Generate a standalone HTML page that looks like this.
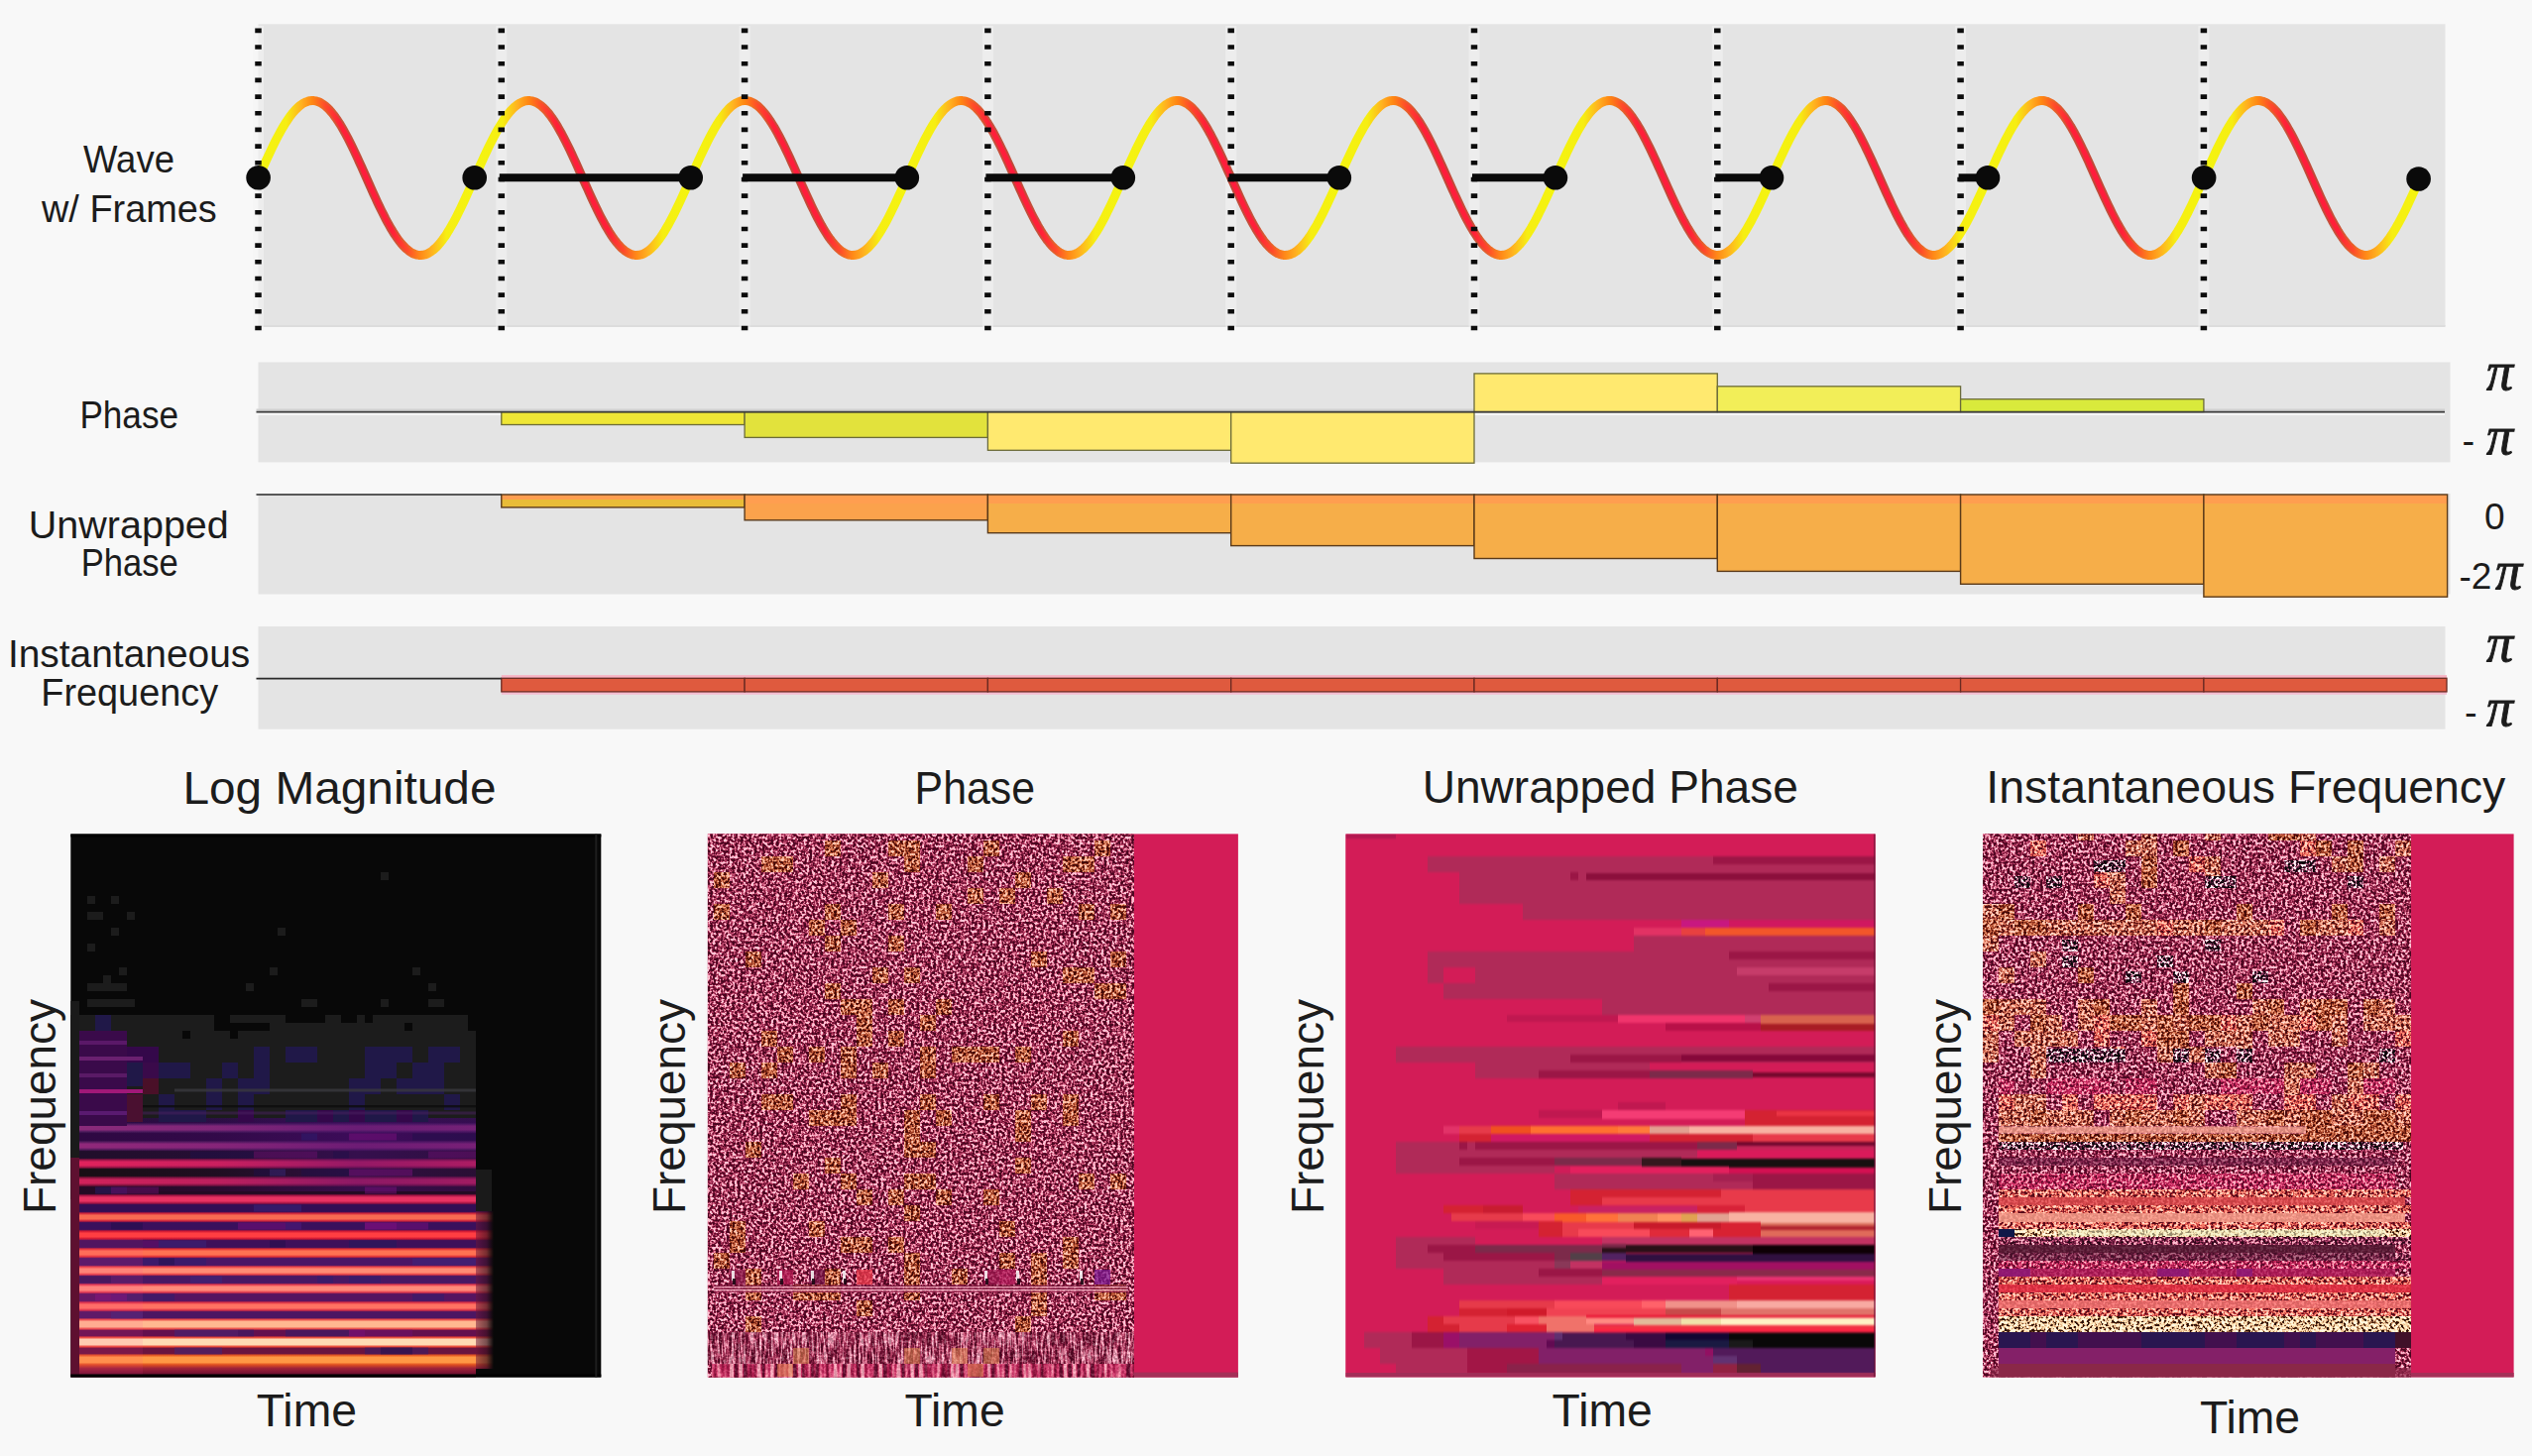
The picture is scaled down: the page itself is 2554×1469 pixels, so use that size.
<!DOCTYPE html><html><head><meta charset="utf-8"><title>Phase figure</title><style>html,body{margin:0;padding:0;background:#f8f8f8;overflow:hidden}svg{display:block}</style></head><body>
<svg width="2554" height="1469" viewBox="0 0 2554 1469">
<defs><linearGradient id="wgO" gradientUnits="userSpaceOnUse" x1="260.60" y1="0" x2="478.65" y2="0" spreadMethod="repeat"><stop offset="0" stop-color="#f4f410"/><stop offset="0.13" stop-color="#f6ee12"/><stop offset="0.2" stop-color="#ffb020"/><stop offset="0.25" stop-color="#ff8612"/><stop offset="0.31" stop-color="#e8602a"/><stop offset="0.38" stop-color="#c8503a"/><stop offset="0.5" stop-color="#c04838"/><stop offset="0.62" stop-color="#c8503a"/><stop offset="0.69" stop-color="#e8602a"/><stop offset="0.75" stop-color="#ff8a18"/><stop offset="0.8" stop-color="#ffb020"/><stop offset="0.87" stop-color="#f6ee12"/><stop offset="1" stop-color="#f4f410"/></linearGradient><linearGradient id="wgI" gradientUnits="userSpaceOnUse" x1="260.60" y1="0" x2="478.65" y2="0" spreadMethod="repeat"><stop offset="0" stop-color="#f4f410"/><stop offset="0.13" stop-color="#f6ee12"/><stop offset="0.2" stop-color="#ffb020"/><stop offset="0.25" stop-color="#ff8612"/><stop offset="0.31" stop-color="#ff4a2a"/><stop offset="0.38" stop-color="#ff2038"/><stop offset="0.5" stop-color="#ff1c3c"/><stop offset="0.62" stop-color="#ff2038"/><stop offset="0.69" stop-color="#ff4a2a"/><stop offset="0.75" stop-color="#ff8a18"/><stop offset="0.8" stop-color="#ffb020"/><stop offset="0.87" stop-color="#f6ee12"/><stop offset="1" stop-color="#f4f410"/></linearGradient><linearGradient id="lmG" gradientUnits="userSpaceOnUse" x1="0" y1="1389.5" x2="0" y2="1128.0"><stop offset="0.0000" stop-color="#4a0c28"/><stop offset="0.0172" stop-color="#7a1434"/><stop offset="0.0344" stop-color="#a02438"/><stop offset="0.0486" stop-color="#e05020"/><stop offset="0.0570" stop-color="#ff9844"/><stop offset="0.0769" stop-color="#ff9844"/><stop offset="0.0853" stop-color="#e05020"/><stop offset="0.0914" stop-color="#6a1440"/><stop offset="0.1113" stop-color="#6a1440"/><stop offset="0.1174" stop-color="#e83c2c"/><stop offset="0.1258" stop-color="#ffdcb4"/><stop offset="0.1457" stop-color="#ffdcb4"/><stop offset="0.1541" stop-color="#e83c2c"/><stop offset="0.1602" stop-color="#64104e"/><stop offset="0.1801" stop-color="#64104e"/><stop offset="0.1862" stop-color="#e84444"/><stop offset="0.1946" stop-color="#ffb890"/><stop offset="0.2145" stop-color="#ffb890"/><stop offset="0.2229" stop-color="#e84444"/><stop offset="0.2291" stop-color="#4c1662"/><stop offset="0.2520" stop-color="#4c1662"/><stop offset="0.2581" stop-color="#d82c44"/><stop offset="0.2665" stop-color="#ff7262"/><stop offset="0.2803" stop-color="#ff7262"/><stop offset="0.2887" stop-color="#d82c44"/><stop offset="0.2948" stop-color="#561460"/><stop offset="0.3208" stop-color="#561460"/><stop offset="0.3270" stop-color="#e0344a"/><stop offset="0.3354" stop-color="#ff8a7a"/><stop offset="0.3491" stop-color="#ff8a7a"/><stop offset="0.3576" stop-color="#e0344a"/><stop offset="0.3637" stop-color="#481864"/><stop offset="0.3897" stop-color="#481864"/><stop offset="0.3958" stop-color="#e83a42"/><stop offset="0.4042" stop-color="#ff8c74"/><stop offset="0.4180" stop-color="#ff8c74"/><stop offset="0.4264" stop-color="#e83a42"/><stop offset="0.4325" stop-color="#4c1666"/><stop offset="0.4585" stop-color="#4c1666"/><stop offset="0.4646" stop-color="#e02c32"/><stop offset="0.4730" stop-color="#ff7252"/><stop offset="0.4868" stop-color="#ff7252"/><stop offset="0.4952" stop-color="#e02c32"/><stop offset="0.5013" stop-color="#3e105a"/><stop offset="0.5273" stop-color="#3e105a"/><stop offset="0.5335" stop-color="#c81432"/><stop offset="0.5419" stop-color="#ff3e42"/><stop offset="0.5556" stop-color="#ff3e42"/><stop offset="0.5641" stop-color="#c81432"/><stop offset="0.5702" stop-color="#3a105c"/><stop offset="0.5962" stop-color="#3a105c"/><stop offset="0.6023" stop-color="#c81c3a"/><stop offset="0.6107" stop-color="#f86a52"/><stop offset="0.6245" stop-color="#f86a52"/><stop offset="0.6329" stop-color="#c81c3a"/><stop offset="0.6390" stop-color="#320e54"/><stop offset="0.6650" stop-color="#320e54"/><stop offset="0.6711" stop-color="#a01242"/><stop offset="0.6795" stop-color="#e83262"/><stop offset="0.6933" stop-color="#e83262"/><stop offset="0.7017" stop-color="#a01242"/><stop offset="0.7078" stop-color="#240a24"/><stop offset="0.7338" stop-color="#240a24"/><stop offset="0.7400" stop-color="#80123a"/><stop offset="0.7484" stop-color="#d0225a"/><stop offset="0.7621" stop-color="#d0225a"/><stop offset="0.7706" stop-color="#80123a"/><stop offset="0.7767" stop-color="#180e14"/><stop offset="0.8027" stop-color="#180e14"/><stop offset="0.8088" stop-color="#901242"/><stop offset="0.8172" stop-color="#e0225c"/><stop offset="0.8310" stop-color="#e0225c"/><stop offset="0.8394" stop-color="#901242"/><stop offset="0.8455" stop-color="#200e2a"/><stop offset="0.8715" stop-color="#200e2a"/><stop offset="0.8776" stop-color="#501a5a"/><stop offset="0.8860" stop-color="#90287a"/><stop offset="0.8998" stop-color="#90287a"/><stop offset="0.9082" stop-color="#501a5a"/><stop offset="0.9143" stop-color="#2e0842"/><stop offset="0.9403" stop-color="#2e0842"/><stop offset="0.9465" stop-color="#481a5a"/><stop offset="0.9549" stop-color="#8a2a7a"/><stop offset="0.9686" stop-color="#8a2a7a"/><stop offset="0.9771" stop-color="#481a5a"/><stop offset="0.9832" stop-color="#280a40"/><stop offset="1.0000" stop-color="#241238"/></linearGradient><linearGradient id="lmFade" x1="0" y1="0" x2="1" y2="0"><stop offset="0" stop-color="#080808" stop-opacity="0.3"/><stop offset="0.6" stop-color="#080808" stop-opacity="0.55"/><stop offset="1" stop-color="#080808" stop-opacity="1"/></linearGradient><linearGradient id="lmPurp" x1="0" y1="0" x2="1" y2="0"><stop offset="0" stop-color="#4a1070" stop-opacity="0"/><stop offset="0.35" stop-color="#4a1070" stop-opacity="0.15"/><stop offset="0.7" stop-color="#4a1070" stop-opacity="0.5"/><stop offset="1" stop-color="#4a1070" stop-opacity="0.35"/></linearGradient><filter id="nPink" x="0" y="0" width="1" height="1" color-interpolation-filters="sRGB"><feTurbulence type="fractalNoise" baseFrequency="0.36" numOctaves="2" seed="3" stitchTiles="noStitch"/><feColorMatrix type="matrix" values="3 0 0 0 -1  3 0 0 0 -1  3 0 0 0 -1  0 0 0 0 1"/><feComponentTransfer><feFuncR type="table" tableValues="0.282 0.353 0.455 0.627 0.816 0.957 1.000"/><feFuncG type="table" tableValues="0.024 0.039 0.078 0.173 0.361 0.596 0.776"/><feFuncB type="table" tableValues="0.118 0.157 0.212 0.322 0.494 0.698 0.839"/></feComponentTransfer><feComposite in2="SourceGraphic" operator="in"/></filter><filter id="nOrange" x="0" y="0" width="1" height="1" color-interpolation-filters="sRGB"><feTurbulence type="fractalNoise" baseFrequency="0.36" numOctaves="2" seed="4" stitchTiles="noStitch"/><feColorMatrix type="matrix" values="3 0 0 0 -1  3 0 0 0 -1  3 0 0 0 -1  0 0 0 0 1"/><feComponentTransfer><feFuncR type="table" tableValues="0.259 0.361 0.533 0.722 0.855 0.949 1.000"/><feFuncG type="table" tableValues="0.039 0.078 0.173 0.322 0.486 0.643 0.776"/><feFuncB type="table" tableValues="0.031 0.047 0.102 0.204 0.337 0.518 0.690"/></feComponentTransfer><feComposite in2="SourceGraphic" operator="in"/></filter><filter id="nPeach" x="0" y="0" width="1" height="1" color-interpolation-filters="sRGB"><feTurbulence type="fractalNoise" baseFrequency="0.36" numOctaves="2" seed="5" stitchTiles="noStitch"/><feColorMatrix type="matrix" values="3 0 0 0 -1  3 0 0 0 -1  3 0 0 0 -1  0 0 0 0 1"/><feComponentTransfer><feFuncR type="table" tableValues="0.290 0.416 0.612 0.816 0.941 0.992 1.000"/><feFuncG type="table" tableValues="0.047 0.102 0.227 0.408 0.580 0.729 0.847"/><feFuncB type="table" tableValues="0.063 0.094 0.188 0.314 0.471 0.635 0.792"/></feComponentTransfer><feComposite in2="SourceGraphic" operator="in"/></filter><filter id="nSalmon" x="0" y="0" width="1" height="1" color-interpolation-filters="sRGB"><feTurbulence type="fractalNoise" baseFrequency="0.36" numOctaves="2" seed="6" stitchTiles="noStitch"/><feColorMatrix type="matrix" values="3 0 0 0 -1  3 0 0 0 -1  3 0 0 0 -1  0 0 0 0 1"/><feComponentTransfer><feFuncR type="table" tableValues="0.322 0.471 0.722 0.910 1.000 1.000 1.000"/><feFuncG type="table" tableValues="0.039 0.086 0.204 0.376 0.565 0.722 0.847"/><feFuncB type="table" tableValues="0.094 0.141 0.227 0.329 0.478 0.627 0.769"/></feComponentTransfer><feComposite in2="SourceGraphic" operator="in"/></filter><filter id="nCream" x="0" y="0" width="1" height="1" color-interpolation-filters="sRGB"><feTurbulence type="fractalNoise" baseFrequency="0.36" numOctaves="2" seed="7" stitchTiles="noStitch"/><feColorMatrix type="matrix" values="3 0 0 0 -1  3 0 0 0 -1  3 0 0 0 -1  0 0 0 0 1"/><feComponentTransfer><feFuncR type="table" tableValues="0.165 0.416 0.816 0.973 1.000 1.000 1.000"/><feFuncG type="table" tableValues="0.063 0.227 0.604 0.831 0.918 0.957 0.980"/><feFuncB type="table" tableValues="0.031 0.125 0.439 0.643 0.753 0.831 0.902"/></feComponentTransfer><feComposite in2="SourceGraphic" operator="in"/></filter><filter id="nDark" x="0" y="0" width="1" height="1" color-interpolation-filters="sRGB"><feTurbulence type="fractalNoise" baseFrequency="0.36" numOctaves="2" seed="8" stitchTiles="noStitch"/><feColorMatrix type="matrix" values="3 0 0 0 -1  3 0 0 0 -1  3 0 0 0 -1  0 0 0 0 1"/><feComponentTransfer><feFuncR type="table" tableValues="0.031 0.078 0.188 0.416 0.784 0.957 1.000"/><feFuncG type="table" tableValues="0.031 0.063 0.063 0.141 0.439 0.816 1.000"/><feFuncB type="table" tableValues="0.031 0.078 0.141 0.267 0.565 0.863 1.000"/></feComponentTransfer><feComposite in2="SourceGraphic" operator="in"/></filter><filter id="nCrim" x="0" y="0" width="1" height="1" color-interpolation-filters="sRGB"><feTurbulence type="fractalNoise" baseFrequency="0.36" numOctaves="2" seed="9" stitchTiles="noStitch"/><feColorMatrix type="matrix" values="3 0 0 0 -1  3 0 0 0 -1  3 0 0 0 -1  0 0 0 0 1"/><feComponentTransfer><feFuncR type="table" tableValues="0.361 0.478 0.627 0.769 0.878 0.957 1.000"/><feFuncG type="table" tableValues="0.039 0.063 0.094 0.141 0.282 0.533 0.706"/><feFuncB type="table" tableValues="0.165 0.204 0.275 0.353 0.478 0.635 0.776"/></feComponentTransfer><feComposite in2="SourceGraphic" operator="in"/></filter><filter id="nMaroon" x="0" y="0" width="1" height="1" color-interpolation-filters="sRGB"><feTurbulence type="fractalNoise" baseFrequency="0.36" numOctaves="2" seed="10" stitchTiles="noStitch"/><feColorMatrix type="matrix" values="3 0 0 0 -1  3 0 0 0 -1  3 0 0 0 -1  0 0 0 0 1"/><feComponentTransfer><feFuncR type="table" tableValues="0.165 0.282 0.392 0.541 0.753 0.910 1.000"/><feFuncG type="table" tableValues="0.031 0.063 0.094 0.157 0.314 0.565 0.753"/><feFuncB type="table" tableValues="0.094 0.157 0.220 0.314 0.471 0.659 0.816"/></feComponentTransfer><feComposite in2="SourceGraphic" operator="in"/></filter><filter id="nPinkV" x="0" y="0" width="1" height="1" color-interpolation-filters="sRGB"><feTurbulence type="fractalNoise" baseFrequency="0.42 0.05" numOctaves="2" seed="21" stitchTiles="noStitch"/><feColorMatrix type="matrix" values="3.4 0 0 0 -1.2  3.4 0 0 0 -1.2  3.4 0 0 0 -1.2  0 0 0 0 1"/><feComponentTransfer><feFuncR type="table" tableValues="0.282 0.353 0.455 0.627 0.816 0.957 1.000"/><feFuncG type="table" tableValues="0.024 0.039 0.078 0.173 0.361 0.596 0.776"/><feFuncB type="table" tableValues="0.118 0.157 0.212 0.322 0.494 0.698 0.839"/></feComponentTransfer><feComposite in2="SourceGraphic" operator="in"/></filter><filter id="nPinkV2" x="0" y="0" width="1" height="1" color-interpolation-filters="sRGB"><feTurbulence type="fractalNoise" baseFrequency="0.22 0.008" numOctaves="1" seed="23" stitchTiles="noStitch"/><feColorMatrix type="matrix" values="4.5 0 0 0 -1.75  4.5 0 0 0 -1.75  4.5 0 0 0 -1.75  0 0 0 0 1"/><feComponentTransfer><feFuncR type="table" tableValues="0.361 0.478 0.627 0.769 0.878 0.957 1.000"/><feFuncG type="table" tableValues="0.039 0.063 0.094 0.141 0.282 0.533 0.706"/><feFuncB type="table" tableValues="0.165 0.204 0.275 0.353 0.478 0.635 0.776"/></feComponentTransfer><feComposite in2="SourceGraphic" operator="in"/></filter><filter id="nPinkH" x="0" y="0" width="1" height="1" color-interpolation-filters="sRGB"><feTurbulence type="fractalNoise" baseFrequency="0.03 0.5" numOctaves="1" seed="25" stitchTiles="noStitch"/><feColorMatrix type="matrix" values="3.4 0 0 0 -1.2  3.4 0 0 0 -1.2  3.4 0 0 0 -1.2  0 0 0 0 1"/><feComponentTransfer><feFuncR type="table" tableValues="0.282 0.353 0.455 0.627 0.816 0.957 1.000"/><feFuncG type="table" tableValues="0.024 0.039 0.078 0.173 0.361 0.596 0.776"/><feFuncB type="table" tableValues="0.118 0.157 0.212 0.322 0.494 0.698 0.839"/></feComponentTransfer><feComposite in2="SourceGraphic" operator="in"/></filter><clipPath id="uwClip"><rect x="1357.5" y="841.6" width="534.0" height="547.7"/></clipPath><filter id="uwBlur" x="-0.02" y="-0.02" width="1.04" height="1.04" color-interpolation-filters="sRGB"><feGaussianBlur stdDeviation="0.7 0.9"/></filter></defs>
<rect width="2554" height="1469" fill="#f8f8f8"/>
<rect x="260.5" y="24.3" width="2206" height="304.7" fill="#e4e4e4"/><rect x="260.5" y="328" width="2206" height="2" fill="#dcdcdc"/><line x1="260.5" y1="26" x2="260.5" y2="334" stroke="#f4f4f4" stroke-width="11" stroke-opacity="0.55"/><line x1="505.8" y1="26" x2="505.8" y2="334" stroke="#f4f4f4" stroke-width="11" stroke-opacity="0.55"/><line x1="751.1" y1="26" x2="751.1" y2="334" stroke="#f4f4f4" stroke-width="11" stroke-opacity="0.55"/><line x1="996.4" y1="26" x2="996.4" y2="334" stroke="#f4f4f4" stroke-width="11" stroke-opacity="0.55"/><line x1="1241.7" y1="26" x2="1241.7" y2="334" stroke="#f4f4f4" stroke-width="11" stroke-opacity="0.55"/><line x1="1487.0" y1="26" x2="1487.0" y2="334" stroke="#f4f4f4" stroke-width="11" stroke-opacity="0.55"/><line x1="1732.3" y1="26" x2="1732.3" y2="334" stroke="#f4f4f4" stroke-width="11" stroke-opacity="0.55"/><line x1="1977.6" y1="26" x2="1977.6" y2="334" stroke="#f4f4f4" stroke-width="11" stroke-opacity="0.55"/><line x1="2222.9" y1="26" x2="2222.9" y2="334" stroke="#f4f4f4" stroke-width="11" stroke-opacity="0.55"/><path d="M260.6 179.5 L262.6 175.0 L264.6 170.5 L266.6 166.1 L268.6 161.7 L270.6 157.3 L272.6 153.1 L274.6 148.9 L276.6 144.8 L278.6 140.8 L280.6 137.0 L282.6 133.3 L284.6 129.8 L286.6 126.4 L288.6 123.2 L290.6 120.2 L292.6 117.3 L294.6 114.7 L296.6 112.3 L298.6 110.2 L300.6 108.2 L302.6 106.5 L304.6 105.1 L306.6 103.8 L308.6 102.9 L310.6 102.2 L312.6 101.7 L314.6 101.5 L316.6 101.6 L318.6 101.9 L320.6 102.5 L322.6 103.3 L324.6 104.4 L326.6 105.7 L328.6 107.3 L330.6 109.1 L332.6 111.2 L334.6 113.5 L336.6 116.0 L338.6 118.7 L340.6 121.6 L342.6 124.7 L344.6 128.0 L346.6 131.5 L348.6 135.1 L350.6 138.8 L352.6 142.8 L354.6 146.8 L356.6 150.9 L358.6 155.1 L360.6 159.4 L362.6 163.8 L364.6 168.2 L366.6 172.7 L368.6 177.2 L370.6 181.7 L372.6 186.2 L374.6 190.6 L376.6 195.1 L378.6 199.4 L380.6 203.8 L382.6 208.0 L384.6 212.1 L386.6 216.1 L388.6 220.1 L390.6 223.8 L392.6 227.4 L394.6 230.9 L396.6 234.2 L398.6 237.3 L400.6 240.2 L402.6 243.0 L404.6 245.5 L406.6 247.8 L408.6 249.8 L410.6 251.6 L412.6 253.2 L414.6 254.6 L416.6 255.7 L418.6 256.5 L420.6 257.1 L422.6 257.4 L424.6 257.5 L426.6 257.3 L428.6 256.9 L430.6 256.2 L432.6 255.2 L434.6 254.0 L436.6 252.5 L438.6 250.8 L440.6 248.9 L442.6 246.7 L444.6 244.3 L446.6 241.7 L448.6 238.9 L450.6 235.9 L452.6 232.7 L454.6 229.3 L456.6 225.8 L458.6 222.1 L460.6 218.3 L462.6 214.3 L464.6 210.2 L466.6 206.0 L468.6 201.8 L470.6 197.4 L472.6 193.0 L474.6 188.6 L476.6 184.1 L478.6 179.6 L480.6 175.1 L482.6 170.6 L484.6 166.2 L486.6 161.8 L488.6 157.4 L490.6 153.2 L492.6 149.0 L494.6 144.9 L496.6 140.9 L498.6 137.1 L500.6 133.4 L502.6 129.8 L504.6 126.5 L506.6 123.3 L508.6 120.2 L510.6 117.4 L512.6 114.8 L514.6 112.4 L516.6 110.2 L518.6 108.3 L520.6 106.6 L522.6 105.1 L524.6 103.9 L526.6 102.9 L528.6 102.2 L530.6 101.7 L532.6 101.5 L534.6 101.6 L536.6 101.9 L538.6 102.5 L540.6 103.3 L542.6 104.4 L544.6 105.7 L546.6 107.3 L548.6 109.1 L550.6 111.1 L552.6 113.4 L554.6 115.9 L556.6 118.6 L558.6 121.5 L560.6 124.6 L562.6 127.9 L564.6 131.4 L566.6 135.0 L568.6 138.8 L570.6 142.7 L572.6 146.7 L574.6 150.8 L576.6 155.0 L578.6 159.3 L580.6 163.7 L582.6 168.1 L584.6 172.6 L586.6 177.1 L588.6 181.6 L590.6 186.1 L592.6 190.5 L594.6 195.0 L596.6 199.3 L598.6 203.7 L600.6 207.9 L602.6 212.0 L604.6 216.1 L606.6 220.0 L608.6 223.7 L610.6 227.4 L612.6 230.8 L614.6 234.1 L616.6 237.2 L618.6 240.2 L620.6 242.9 L622.6 245.4 L624.6 247.7 L626.6 249.8 L628.6 251.6 L630.6 253.2 L632.6 254.5 L634.6 255.6 L636.6 256.5 L638.6 257.1 L640.6 257.4 L642.6 257.5 L644.6 257.3 L646.6 256.9 L648.6 256.2 L650.6 255.2 L652.6 254.0 L654.6 252.6 L656.6 250.9 L658.6 248.9 L660.6 246.8 L662.6 244.4 L664.6 241.8 L666.6 239.0 L668.6 236.0 L670.6 232.8 L672.6 229.4 L674.6 225.9 L676.6 222.2 L678.6 218.4 L680.6 214.4 L682.6 210.3 L684.6 206.1 L686.6 201.9 L688.6 197.5 L690.6 193.1 L692.6 188.7 L694.6 184.2 L696.6 179.7 L698.6 175.2 L700.6 170.8 L702.6 166.3 L704.6 161.9 L706.6 157.5 L708.6 153.3 L710.6 149.1 L712.6 145.0 L714.6 141.0 L716.6 137.2 L718.6 133.5 L720.6 129.9 L722.6 126.5 L724.6 123.3 L726.6 120.3 L728.6 117.5 L730.6 114.9 L732.6 112.5 L734.6 110.3 L736.6 108.3 L738.6 106.6 L740.6 105.1 L742.6 103.9 L744.6 102.9 L746.6 102.2 L748.6 101.7 L750.6 101.5 L752.6 101.6 L754.6 101.9 L756.6 102.4 L758.6 103.3 L760.6 104.3 L762.6 105.7 L764.6 107.2 L766.6 109.0 L768.6 111.1 L770.6 113.4 L772.6 115.8 L774.6 118.6 L776.6 121.5 L778.6 124.6 L780.6 127.8 L782.6 131.3 L784.6 134.9 L786.6 138.7 L788.6 142.6 L790.6 146.6 L792.6 150.7 L794.6 154.9 L796.6 159.2 L798.6 163.6 L800.6 168.0 L802.6 172.5 L804.6 177.0 L806.6 181.5 L808.6 186.0 L810.6 190.4 L812.6 194.9 L814.6 199.2 L816.6 203.5 L818.6 207.8 L820.6 211.9 L822.6 216.0 L824.6 219.9 L826.6 223.6 L828.6 227.3 L830.6 230.7 L832.6 234.0 L834.6 237.2 L836.6 240.1 L838.6 242.8 L840.6 245.3 L842.6 247.6 L844.6 249.7 L846.6 251.6 L848.6 253.2 L850.6 254.5 L852.6 255.6 L854.6 256.5 L856.6 257.1 L858.6 257.4 L860.6 257.5 L862.6 257.3 L864.6 256.9 L866.6 256.2 L868.6 255.2 L870.6 254.0 L872.6 252.6 L874.6 250.9 L876.6 249.0 L878.6 246.8 L880.6 244.5 L882.6 241.9 L884.6 239.1 L886.6 236.1 L888.6 232.9 L890.6 229.5 L892.6 226.0 L894.6 222.3 L896.6 218.5 L898.6 214.5 L900.6 210.4 L902.6 206.3 L904.6 202.0 L906.6 197.6 L908.6 193.3 L910.6 188.8 L912.6 184.3 L914.6 179.8 L916.6 175.3 L918.6 170.9 L920.6 166.4 L922.6 162.0 L924.6 157.7 L926.6 153.4 L928.6 149.2 L930.6 145.1 L932.6 141.1 L934.6 137.3 L936.6 133.6 L938.6 130.0 L940.6 126.6 L942.6 123.4 L944.6 120.4 L946.6 117.5 L948.6 114.9 L950.6 112.5 L952.6 110.3 L954.6 108.4 L956.6 106.6 L958.6 105.2 L960.6 103.9 L962.6 102.9 L964.6 102.2 L966.6 101.7 L968.6 101.5 L970.6 101.6 L972.6 101.9 L974.6 102.4 L976.6 103.2 L978.6 104.3 L980.6 105.6 L982.6 107.2 L984.6 109.0 L986.6 111.0 L988.6 113.3 L990.6 115.8 L992.6 118.5 L994.6 121.4 L996.6 124.5 L998.6 127.8 L1000.6 131.2 L1002.6 134.8 L1004.6 138.6 L1006.6 142.5 L1008.6 146.5 L1010.6 150.6 L1012.6 154.8 L1014.6 159.1 L1016.6 163.5 L1018.6 167.9 L1020.6 172.4 L1022.6 176.9 L1024.6 181.4 L1026.6 185.8 L1028.6 190.3 L1030.6 194.7 L1032.6 199.1 L1034.6 203.4 L1036.6 207.7 L1038.6 211.8 L1040.6 215.9 L1042.6 219.8 L1044.6 223.5 L1046.6 227.2 L1048.6 230.7 L1050.6 234.0 L1052.6 237.1 L1054.6 240.0 L1056.6 242.8 L1058.6 245.3 L1060.6 247.6 L1062.6 249.7 L1064.6 251.5 L1066.6 253.1 L1068.6 254.5 L1070.6 255.6 L1072.6 256.5 L1074.6 257.1 L1076.6 257.4 L1078.6 257.5 L1080.6 257.3 L1082.6 256.9 L1084.6 256.2 L1086.6 255.3 L1088.6 254.1 L1090.6 252.6 L1092.6 251.0 L1094.6 249.0 L1096.6 246.9 L1098.6 244.5 L1100.6 241.9 L1102.6 239.1 L1104.6 236.1 L1106.6 233.0 L1108.6 229.6 L1110.6 226.1 L1112.6 222.4 L1114.6 218.6 L1116.6 214.6 L1118.6 210.5 L1120.6 206.4 L1122.6 202.1 L1124.6 197.8 L1126.6 193.4 L1128.6 188.9 L1130.6 184.4 L1132.6 179.9 L1134.6 175.5 L1136.6 171.0 L1138.6 166.5 L1140.6 162.1 L1142.6 157.8 L1144.6 153.5 L1146.6 149.3 L1148.6 145.2 L1150.6 141.2 L1152.6 137.4 L1154.6 133.7 L1156.6 130.1 L1158.6 126.7 L1160.6 123.5 L1162.6 120.5 L1164.6 117.6 L1166.6 115.0 L1168.6 112.6 L1170.6 110.4 L1172.6 108.4 L1174.6 106.7 L1176.6 105.2 L1178.6 103.9 L1180.6 103.0 L1182.6 102.2 L1184.6 101.7 L1186.6 101.5 L1188.6 101.6 L1190.6 101.8 L1192.6 102.4 L1194.6 103.2 L1196.6 104.3 L1198.6 105.6 L1200.6 107.1 L1202.6 108.9 L1204.6 111.0 L1206.6 113.2 L1208.6 115.7 L1210.6 118.4 L1212.6 121.3 L1214.6 124.4 L1216.6 127.7 L1218.6 131.1 L1220.6 134.7 L1222.6 138.5 L1224.6 142.4 L1226.6 146.4 L1228.6 150.5 L1230.6 154.7 L1232.6 159.0 L1234.6 163.4 L1236.6 167.8 L1238.6 172.3 L1240.6 176.7 L1242.6 181.2 L1244.6 185.7 L1246.6 190.2 L1248.6 194.6 L1250.6 199.0 L1252.6 203.3 L1254.6 207.6 L1256.6 211.7 L1258.6 215.8 L1260.6 219.7 L1262.6 223.5 L1264.6 227.1 L1266.6 230.6 L1268.6 233.9 L1270.6 237.0 L1272.6 240.0 L1274.6 242.7 L1276.6 245.2 L1278.6 247.5 L1280.6 249.6 L1282.6 251.5 L1284.6 253.1 L1286.6 254.4 L1288.6 255.6 L1290.6 256.4 L1292.6 257.0 L1294.6 257.4 L1296.6 257.5 L1298.6 257.3 L1300.6 256.9 L1302.6 256.2 L1304.6 255.3 L1306.6 254.1 L1308.6 252.7 L1310.6 251.0 L1312.6 249.1 L1314.6 246.9 L1316.6 244.6 L1318.6 242.0 L1320.6 239.2 L1322.6 236.2 L1324.6 233.0 L1326.6 229.7 L1328.6 226.2 L1330.6 222.5 L1332.6 218.7 L1334.6 214.7 L1336.6 210.6 L1338.6 206.5 L1340.6 202.2 L1342.6 197.9 L1344.6 193.5 L1346.6 189.0 L1348.6 184.6 L1350.6 180.1 L1352.6 175.6 L1354.6 171.1 L1356.6 166.6 L1358.6 162.2 L1360.6 157.9 L1362.6 153.6 L1364.6 149.4 L1366.6 145.3 L1368.6 141.3 L1370.6 137.5 L1372.6 133.8 L1374.6 130.2 L1376.6 126.8 L1378.6 123.6 L1380.6 120.5 L1382.6 117.7 L1384.6 115.0 L1386.6 112.6 L1388.6 110.4 L1390.6 108.5 L1392.6 106.7 L1394.6 105.2 L1396.6 104.0 L1398.6 103.0 L1400.6 102.2 L1402.6 101.7 L1404.6 101.5 L1406.6 101.5 L1408.6 101.8 L1410.6 102.4 L1412.6 103.2 L1414.6 104.2 L1416.6 105.6 L1418.6 107.1 L1420.6 108.9 L1422.6 110.9 L1424.6 113.2 L1426.6 115.7 L1428.6 118.3 L1430.6 121.2 L1432.6 124.3 L1434.6 127.6 L1436.6 131.0 L1438.6 134.6 L1440.6 138.4 L1442.6 142.3 L1444.6 146.3 L1446.6 150.4 L1448.6 154.6 L1450.6 158.9 L1452.6 163.3 L1454.6 167.7 L1456.6 172.2 L1458.6 176.6 L1460.6 181.1 L1462.6 185.6 L1464.6 190.1 L1466.6 194.5 L1468.6 198.9 L1470.6 203.2 L1472.6 207.5 L1474.6 211.6 L1476.6 215.7 L1478.6 219.6 L1480.6 223.4 L1482.6 227.0 L1484.6 230.5 L1486.6 233.8 L1488.6 236.9 L1490.6 239.9 L1492.6 242.6 L1494.6 245.2 L1496.6 247.5 L1498.6 249.6 L1500.6 251.4 L1502.6 253.0 L1504.6 254.4 L1506.6 255.5 L1508.6 256.4 L1510.6 257.0 L1512.6 257.4 L1514.6 257.5 L1516.6 257.3 L1518.6 256.9 L1520.6 256.3 L1522.6 255.3 L1524.6 254.1 L1526.6 252.7 L1528.6 251.0 L1530.6 249.1 L1532.6 247.0 L1534.6 244.6 L1536.6 242.1 L1538.6 239.3 L1540.6 236.3 L1542.6 233.1 L1544.6 229.8 L1546.6 226.2 L1548.6 222.6 L1550.6 218.8 L1552.6 214.8 L1554.6 210.7 L1556.6 206.6 L1558.6 202.3 L1560.6 198.0 L1562.6 193.6 L1564.6 189.1 L1566.6 184.7 L1568.6 180.2 L1570.6 175.7 L1572.6 171.2 L1574.6 166.7 L1576.6 162.3 L1578.6 158.0 L1580.6 153.7 L1582.6 149.5 L1584.6 145.4 L1586.6 141.4 L1588.6 137.6 L1590.6 133.8 L1592.6 130.3 L1594.6 126.9 L1596.6 123.6 L1598.6 120.6 L1600.6 117.8 L1602.6 115.1 L1604.6 112.7 L1606.6 110.5 L1608.6 108.5 L1610.6 106.8 L1612.6 105.3 L1614.6 104.0 L1616.6 103.0 L1618.6 102.2 L1620.6 101.8 L1622.6 101.5 L1624.6 101.5 L1626.6 101.8 L1628.6 102.4 L1630.6 103.2 L1632.6 104.2 L1634.6 105.5 L1636.6 107.1 L1638.6 108.9 L1640.6 110.9 L1642.6 113.1 L1644.6 115.6 L1646.6 118.3 L1648.6 121.2 L1650.6 124.2 L1652.6 127.5 L1654.6 130.9 L1656.6 134.5 L1658.6 138.3 L1660.6 142.2 L1662.6 146.2 L1664.6 150.3 L1666.6 154.5 L1668.6 158.8 L1670.6 163.2 L1672.6 167.6 L1674.6 172.0 L1676.6 176.5 L1678.6 181.0 L1680.6 185.5 L1682.6 190.0 L1684.6 194.4 L1686.6 198.8 L1688.6 203.1 L1690.6 207.4 L1692.6 211.5 L1694.6 215.6 L1696.6 219.5 L1698.6 223.3 L1700.6 226.9 L1702.6 230.4 L1704.6 233.7 L1706.6 236.9 L1708.6 239.8 L1710.6 242.6 L1712.6 245.1 L1714.6 247.4 L1716.6 249.5 L1718.6 251.4 L1720.6 253.0 L1722.6 254.4 L1724.6 255.5 L1726.6 256.4 L1728.6 257.0 L1730.6 257.4 L1732.6 257.5 L1734.6 257.3 L1736.6 256.9 L1738.6 256.3 L1740.6 255.4 L1742.6 254.2 L1744.6 252.8 L1746.6 251.1 L1748.6 249.2 L1750.6 247.1 L1752.6 244.7 L1754.6 242.1 L1756.6 239.3 L1758.6 236.4 L1760.6 233.2 L1762.6 229.8 L1764.6 226.3 L1766.6 222.7 L1768.6 218.8 L1770.6 214.9 L1772.6 210.8 L1774.6 206.7 L1776.6 202.4 L1778.6 198.1 L1780.6 193.7 L1782.6 189.3 L1784.6 184.8 L1786.6 180.3 L1788.6 175.8 L1790.6 171.3 L1792.6 166.9 L1794.6 162.4 L1796.6 158.1 L1798.6 153.8 L1800.6 149.6 L1802.6 145.5 L1804.6 141.5 L1806.6 137.7 L1808.6 133.9 L1810.6 130.4 L1812.6 127.0 L1814.6 123.7 L1816.6 120.7 L1818.6 117.8 L1820.6 115.2 L1822.6 112.7 L1824.6 110.5 L1826.6 108.5 L1828.6 106.8 L1830.6 105.3 L1832.6 104.0 L1834.6 103.0 L1836.6 102.3 L1838.6 101.8 L1840.6 101.5 L1842.6 101.5 L1844.6 101.8 L1846.6 102.4 L1848.6 103.1 L1850.6 104.2 L1852.6 105.5 L1854.6 107.0 L1856.6 108.8 L1858.6 110.8 L1860.6 113.1 L1862.6 115.5 L1864.6 118.2 L1866.6 121.1 L1868.6 124.2 L1870.6 127.4 L1872.6 130.8 L1874.6 134.4 L1876.6 138.2 L1878.6 142.1 L1880.6 146.1 L1882.6 150.2 L1884.6 154.4 L1886.6 158.7 L1888.6 163.0 L1890.6 167.5 L1892.6 171.9 L1894.6 176.4 L1896.6 180.9 L1898.6 185.4 L1900.6 189.9 L1902.6 194.3 L1904.6 198.7 L1906.6 203.0 L1908.6 207.3 L1910.6 211.4 L1912.6 215.5 L1914.6 219.4 L1916.6 223.2 L1918.6 226.8 L1920.6 230.3 L1922.6 233.6 L1924.6 236.8 L1926.6 239.7 L1928.6 242.5 L1930.6 245.0 L1932.6 247.4 L1934.6 249.5 L1936.6 251.3 L1938.6 253.0 L1940.6 254.4 L1942.6 255.5 L1944.6 256.4 L1946.6 257.0 L1948.6 257.4 L1950.6 257.5 L1952.6 257.4 L1954.6 257.0 L1956.6 256.3 L1958.6 255.4 L1960.6 254.2 L1962.6 252.8 L1964.6 251.1 L1966.6 249.2 L1968.6 247.1 L1970.6 244.8 L1972.6 242.2 L1974.6 239.4 L1976.6 236.4 L1978.6 233.3 L1980.6 229.9 L1982.6 226.4 L1984.6 222.8 L1986.6 218.9 L1988.6 215.0 L1990.6 210.9 L1992.6 206.8 L1994.6 202.5 L1996.6 198.2 L1998.6 193.8 L2000.6 189.4 L2002.6 184.9 L2004.6 180.4 L2006.6 175.9 L2008.6 171.4 L2010.6 167.0 L2012.6 162.6 L2014.6 158.2 L2016.6 153.9 L2018.6 149.7 L2020.6 145.6 L2022.6 141.6 L2024.6 137.8 L2026.6 134.0 L2028.6 130.5 L2030.6 127.0 L2032.6 123.8 L2034.6 120.7 L2036.6 117.9 L2038.6 115.2 L2040.6 112.8 L2042.6 110.6 L2044.6 108.6 L2046.6 106.8 L2048.6 105.3 L2050.6 104.1 L2052.6 103.0 L2054.6 102.3 L2056.6 101.8 L2058.6 101.5 L2060.6 101.5 L2062.6 101.8 L2064.6 102.3 L2066.6 103.1 L2068.6 104.2 L2070.6 105.4 L2072.6 107.0 L2074.6 108.8 L2076.6 110.8 L2078.6 113.0 L2080.6 115.5 L2082.6 118.1 L2084.6 121.0 L2086.6 124.1 L2088.6 127.3 L2090.6 130.8 L2092.6 134.3 L2094.6 138.1 L2096.6 142.0 L2098.6 146.0 L2100.6 150.1 L2102.6 154.3 L2104.6 158.6 L2106.6 162.9 L2108.6 167.4 L2110.6 171.8 L2112.6 176.3 L2114.6 180.8 L2116.6 185.3 L2118.6 189.8 L2120.6 194.2 L2122.6 198.6 L2124.6 202.9 L2126.6 207.1 L2128.6 211.3 L2130.6 215.4 L2132.6 219.3 L2134.6 223.1 L2136.6 226.7 L2138.6 230.2 L2140.6 233.6 L2142.6 236.7 L2144.6 239.7 L2146.6 242.4 L2148.6 245.0 L2150.6 247.3 L2152.6 249.4 L2154.6 251.3 L2156.6 252.9 L2158.6 254.3 L2160.6 255.5 L2162.6 256.4 L2164.6 257.0 L2166.6 257.4 L2168.6 257.5 L2170.6 257.4 L2172.6 257.0 L2174.6 256.3 L2176.6 255.4 L2178.6 254.2 L2180.6 252.8 L2182.6 251.2 L2184.6 249.3 L2186.6 247.2 L2188.6 244.8 L2190.6 242.3 L2192.6 239.5 L2194.6 236.5 L2196.6 233.4 L2198.6 230.0 L2200.6 226.5 L2202.6 222.8 L2204.6 219.0 L2206.6 215.1 L2208.6 211.0 L2210.6 206.9 L2212.6 202.6 L2214.6 198.3 L2216.6 193.9 L2218.6 189.5 L2220.6 185.0 L2222.6 180.5 L2224.6 176.0 L2226.6 171.5 L2228.6 167.1 L2230.6 162.7 L2232.6 158.3 L2234.6 154.0 L2236.6 149.8 L2238.6 145.7 L2240.6 141.7 L2242.6 137.8 L2244.6 134.1 L2246.6 130.5 L2248.6 127.1 L2250.6 123.9 L2252.6 120.8 L2254.6 118.0 L2256.6 115.3 L2258.6 112.9 L2260.6 110.6 L2262.6 108.6 L2264.6 106.9 L2266.6 105.4 L2268.6 104.1 L2270.6 103.1 L2272.6 102.3 L2274.6 101.8 L2276.6 101.5 L2278.6 101.5 L2280.6 101.8 L2282.6 102.3 L2284.6 103.1 L2286.6 104.1 L2288.6 105.4 L2290.6 106.9 L2292.6 108.7 L2294.6 110.7 L2296.6 112.9 L2298.6 115.4 L2300.6 118.1 L2302.6 120.9 L2304.6 124.0 L2306.6 127.2 L2308.6 130.7 L2310.6 134.3 L2312.6 138.0 L2314.6 141.9 L2316.6 145.9 L2318.6 150.0 L2320.6 154.2 L2322.6 158.5 L2324.6 162.8 L2326.6 167.2 L2328.6 171.7 L2330.6 176.2 L2332.6 180.7 L2334.6 185.2 L2336.6 189.6 L2338.6 194.1 L2340.6 198.5 L2342.6 202.8 L2344.6 207.0 L2346.6 211.2 L2348.6 215.3 L2350.6 219.2 L2352.6 223.0 L2354.6 226.6 L2356.6 230.1 L2358.6 233.5 L2360.6 236.6 L2362.6 239.6 L2364.6 242.4 L2366.6 244.9 L2368.6 247.3 L2370.6 249.4 L2372.6 251.2 L2374.6 252.9 L2376.6 254.3 L2378.6 255.4 L2380.6 256.3 L2382.6 257.0 L2384.6 257.4 L2386.6 257.5 L2388.6 257.4 L2390.6 257.0 L2392.6 256.3 L2394.6 255.4 L2396.6 254.3 L2398.6 252.9 L2400.6 251.2 L2402.6 249.3 L2404.6 247.2 L2406.6 244.9 L2408.6 242.3 L2410.6 239.6 L2412.6 236.6 L2414.6 233.4 L2416.6 230.1 L2418.6 226.6 L2420.6 222.9 L2422.6 219.1 L2424.6 215.2 L2426.6 211.2 L2428.6 207.0 L2430.6 202.7 L2432.6 198.4 L2434.6 194.0 L2436.6 189.6 L2438.6 185.1 L2439.6 182.9" fill="none" stroke="url(#wgO)" stroke-width="9" stroke-linecap="butt" stroke-linejoin="round"/><path d="M260.6 179.5 L262.6 175.0 L264.6 170.5 L266.6 166.1 L268.6 161.7 L270.6 157.3 L272.6 153.1 L274.6 148.9 L276.6 144.8 L278.6 140.8 L280.6 137.0 L282.6 133.3 L284.6 129.8 L286.6 126.4 L288.6 123.2 L290.6 120.2 L292.6 117.3 L294.6 114.7 L296.6 112.3 L298.6 110.2 L300.6 108.2 L302.6 106.5 L304.6 105.1 L306.6 103.8 L308.6 102.9 L310.6 102.2 L312.6 101.7 L314.6 101.5 L316.6 101.6 L318.6 101.9 L320.6 102.5 L322.6 103.3 L324.6 104.4 L326.6 105.7 L328.6 107.3 L330.6 109.1 L332.6 111.2 L334.6 113.5 L336.6 116.0 L338.6 118.7 L340.6 121.6 L342.6 124.7 L344.6 128.0 L346.6 131.5 L348.6 135.1 L350.6 138.8 L352.6 142.8 L354.6 146.8 L356.6 150.9 L358.6 155.1 L360.6 159.4 L362.6 163.8 L364.6 168.2 L366.6 172.7 L368.6 177.2 L370.6 181.7 L372.6 186.2 L374.6 190.6 L376.6 195.1 L378.6 199.4 L380.6 203.8 L382.6 208.0 L384.6 212.1 L386.6 216.1 L388.6 220.1 L390.6 223.8 L392.6 227.4 L394.6 230.9 L396.6 234.2 L398.6 237.3 L400.6 240.2 L402.6 243.0 L404.6 245.5 L406.6 247.8 L408.6 249.8 L410.6 251.6 L412.6 253.2 L414.6 254.6 L416.6 255.7 L418.6 256.5 L420.6 257.1 L422.6 257.4 L424.6 257.5 L426.6 257.3 L428.6 256.9 L430.6 256.2 L432.6 255.2 L434.6 254.0 L436.6 252.5 L438.6 250.8 L440.6 248.9 L442.6 246.7 L444.6 244.3 L446.6 241.7 L448.6 238.9 L450.6 235.9 L452.6 232.7 L454.6 229.3 L456.6 225.8 L458.6 222.1 L460.6 218.3 L462.6 214.3 L464.6 210.2 L466.6 206.0 L468.6 201.8 L470.6 197.4 L472.6 193.0 L474.6 188.6 L476.6 184.1 L478.6 179.6 L480.6 175.1 L482.6 170.6 L484.6 166.2 L486.6 161.8 L488.6 157.4 L490.6 153.2 L492.6 149.0 L494.6 144.9 L496.6 140.9 L498.6 137.1 L500.6 133.4 L502.6 129.8 L504.6 126.5 L506.6 123.3 L508.6 120.2 L510.6 117.4 L512.6 114.8 L514.6 112.4 L516.6 110.2 L518.6 108.3 L520.6 106.6 L522.6 105.1 L524.6 103.9 L526.6 102.9 L528.6 102.2 L530.6 101.7 L532.6 101.5 L534.6 101.6 L536.6 101.9 L538.6 102.5 L540.6 103.3 L542.6 104.4 L544.6 105.7 L546.6 107.3 L548.6 109.1 L550.6 111.1 L552.6 113.4 L554.6 115.9 L556.6 118.6 L558.6 121.5 L560.6 124.6 L562.6 127.9 L564.6 131.4 L566.6 135.0 L568.6 138.8 L570.6 142.7 L572.6 146.7 L574.6 150.8 L576.6 155.0 L578.6 159.3 L580.6 163.7 L582.6 168.1 L584.6 172.6 L586.6 177.1 L588.6 181.6 L590.6 186.1 L592.6 190.5 L594.6 195.0 L596.6 199.3 L598.6 203.7 L600.6 207.9 L602.6 212.0 L604.6 216.1 L606.6 220.0 L608.6 223.7 L610.6 227.4 L612.6 230.8 L614.6 234.1 L616.6 237.2 L618.6 240.2 L620.6 242.9 L622.6 245.4 L624.6 247.7 L626.6 249.8 L628.6 251.6 L630.6 253.2 L632.6 254.5 L634.6 255.6 L636.6 256.5 L638.6 257.1 L640.6 257.4 L642.6 257.5 L644.6 257.3 L646.6 256.9 L648.6 256.2 L650.6 255.2 L652.6 254.0 L654.6 252.6 L656.6 250.9 L658.6 248.9 L660.6 246.8 L662.6 244.4 L664.6 241.8 L666.6 239.0 L668.6 236.0 L670.6 232.8 L672.6 229.4 L674.6 225.9 L676.6 222.2 L678.6 218.4 L680.6 214.4 L682.6 210.3 L684.6 206.1 L686.6 201.9 L688.6 197.5 L690.6 193.1 L692.6 188.7 L694.6 184.2 L696.6 179.7 L698.6 175.2 L700.6 170.8 L702.6 166.3 L704.6 161.9 L706.6 157.5 L708.6 153.3 L710.6 149.1 L712.6 145.0 L714.6 141.0 L716.6 137.2 L718.6 133.5 L720.6 129.9 L722.6 126.5 L724.6 123.3 L726.6 120.3 L728.6 117.5 L730.6 114.9 L732.6 112.5 L734.6 110.3 L736.6 108.3 L738.6 106.6 L740.6 105.1 L742.6 103.9 L744.6 102.9 L746.6 102.2 L748.6 101.7 L750.6 101.5 L752.6 101.6 L754.6 101.9 L756.6 102.4 L758.6 103.3 L760.6 104.3 L762.6 105.7 L764.6 107.2 L766.6 109.0 L768.6 111.1 L770.6 113.4 L772.6 115.8 L774.6 118.6 L776.6 121.5 L778.6 124.6 L780.6 127.8 L782.6 131.3 L784.6 134.9 L786.6 138.7 L788.6 142.6 L790.6 146.6 L792.6 150.7 L794.6 154.9 L796.6 159.2 L798.6 163.6 L800.6 168.0 L802.6 172.5 L804.6 177.0 L806.6 181.5 L808.6 186.0 L810.6 190.4 L812.6 194.9 L814.6 199.2 L816.6 203.5 L818.6 207.8 L820.6 211.9 L822.6 216.0 L824.6 219.9 L826.6 223.6 L828.6 227.3 L830.6 230.7 L832.6 234.0 L834.6 237.2 L836.6 240.1 L838.6 242.8 L840.6 245.3 L842.6 247.6 L844.6 249.7 L846.6 251.6 L848.6 253.2 L850.6 254.5 L852.6 255.6 L854.6 256.5 L856.6 257.1 L858.6 257.4 L860.6 257.5 L862.6 257.3 L864.6 256.9 L866.6 256.2 L868.6 255.2 L870.6 254.0 L872.6 252.6 L874.6 250.9 L876.6 249.0 L878.6 246.8 L880.6 244.5 L882.6 241.9 L884.6 239.1 L886.6 236.1 L888.6 232.9 L890.6 229.5 L892.6 226.0 L894.6 222.3 L896.6 218.5 L898.6 214.5 L900.6 210.4 L902.6 206.3 L904.6 202.0 L906.6 197.6 L908.6 193.3 L910.6 188.8 L912.6 184.3 L914.6 179.8 L916.6 175.3 L918.6 170.9 L920.6 166.4 L922.6 162.0 L924.6 157.7 L926.6 153.4 L928.6 149.2 L930.6 145.1 L932.6 141.1 L934.6 137.3 L936.6 133.6 L938.6 130.0 L940.6 126.6 L942.6 123.4 L944.6 120.4 L946.6 117.5 L948.6 114.9 L950.6 112.5 L952.6 110.3 L954.6 108.4 L956.6 106.6 L958.6 105.2 L960.6 103.9 L962.6 102.9 L964.6 102.2 L966.6 101.7 L968.6 101.5 L970.6 101.6 L972.6 101.9 L974.6 102.4 L976.6 103.2 L978.6 104.3 L980.6 105.6 L982.6 107.2 L984.6 109.0 L986.6 111.0 L988.6 113.3 L990.6 115.8 L992.6 118.5 L994.6 121.4 L996.6 124.5 L998.6 127.8 L1000.6 131.2 L1002.6 134.8 L1004.6 138.6 L1006.6 142.5 L1008.6 146.5 L1010.6 150.6 L1012.6 154.8 L1014.6 159.1 L1016.6 163.5 L1018.6 167.9 L1020.6 172.4 L1022.6 176.9 L1024.6 181.4 L1026.6 185.8 L1028.6 190.3 L1030.6 194.7 L1032.6 199.1 L1034.6 203.4 L1036.6 207.7 L1038.6 211.8 L1040.6 215.9 L1042.6 219.8 L1044.6 223.5 L1046.6 227.2 L1048.6 230.7 L1050.6 234.0 L1052.6 237.1 L1054.6 240.0 L1056.6 242.8 L1058.6 245.3 L1060.6 247.6 L1062.6 249.7 L1064.6 251.5 L1066.6 253.1 L1068.6 254.5 L1070.6 255.6 L1072.6 256.5 L1074.6 257.1 L1076.6 257.4 L1078.6 257.5 L1080.6 257.3 L1082.6 256.9 L1084.6 256.2 L1086.6 255.3 L1088.6 254.1 L1090.6 252.6 L1092.6 251.0 L1094.6 249.0 L1096.6 246.9 L1098.6 244.5 L1100.6 241.9 L1102.6 239.1 L1104.6 236.1 L1106.6 233.0 L1108.6 229.6 L1110.6 226.1 L1112.6 222.4 L1114.6 218.6 L1116.6 214.6 L1118.6 210.5 L1120.6 206.4 L1122.6 202.1 L1124.6 197.8 L1126.6 193.4 L1128.6 188.9 L1130.6 184.4 L1132.6 179.9 L1134.6 175.5 L1136.6 171.0 L1138.6 166.5 L1140.6 162.1 L1142.6 157.8 L1144.6 153.5 L1146.6 149.3 L1148.6 145.2 L1150.6 141.2 L1152.6 137.4 L1154.6 133.7 L1156.6 130.1 L1158.6 126.7 L1160.6 123.5 L1162.6 120.5 L1164.6 117.6 L1166.6 115.0 L1168.6 112.6 L1170.6 110.4 L1172.6 108.4 L1174.6 106.7 L1176.6 105.2 L1178.6 103.9 L1180.6 103.0 L1182.6 102.2 L1184.6 101.7 L1186.6 101.5 L1188.6 101.6 L1190.6 101.8 L1192.6 102.4 L1194.6 103.2 L1196.6 104.3 L1198.6 105.6 L1200.6 107.1 L1202.6 108.9 L1204.6 111.0 L1206.6 113.2 L1208.6 115.7 L1210.6 118.4 L1212.6 121.3 L1214.6 124.4 L1216.6 127.7 L1218.6 131.1 L1220.6 134.7 L1222.6 138.5 L1224.6 142.4 L1226.6 146.4 L1228.6 150.5 L1230.6 154.7 L1232.6 159.0 L1234.6 163.4 L1236.6 167.8 L1238.6 172.3 L1240.6 176.7 L1242.6 181.2 L1244.6 185.7 L1246.6 190.2 L1248.6 194.6 L1250.6 199.0 L1252.6 203.3 L1254.6 207.6 L1256.6 211.7 L1258.6 215.8 L1260.6 219.7 L1262.6 223.5 L1264.6 227.1 L1266.6 230.6 L1268.6 233.9 L1270.6 237.0 L1272.6 240.0 L1274.6 242.7 L1276.6 245.2 L1278.6 247.5 L1280.6 249.6 L1282.6 251.5 L1284.6 253.1 L1286.6 254.4 L1288.6 255.6 L1290.6 256.4 L1292.6 257.0 L1294.6 257.4 L1296.6 257.5 L1298.6 257.3 L1300.6 256.9 L1302.6 256.2 L1304.6 255.3 L1306.6 254.1 L1308.6 252.7 L1310.6 251.0 L1312.6 249.1 L1314.6 246.9 L1316.6 244.6 L1318.6 242.0 L1320.6 239.2 L1322.6 236.2 L1324.6 233.0 L1326.6 229.7 L1328.6 226.2 L1330.6 222.5 L1332.6 218.7 L1334.6 214.7 L1336.6 210.6 L1338.6 206.5 L1340.6 202.2 L1342.6 197.9 L1344.6 193.5 L1346.6 189.0 L1348.6 184.6 L1350.6 180.1 L1352.6 175.6 L1354.6 171.1 L1356.6 166.6 L1358.6 162.2 L1360.6 157.9 L1362.6 153.6 L1364.6 149.4 L1366.6 145.3 L1368.6 141.3 L1370.6 137.5 L1372.6 133.8 L1374.6 130.2 L1376.6 126.8 L1378.6 123.6 L1380.6 120.5 L1382.6 117.7 L1384.6 115.0 L1386.6 112.6 L1388.6 110.4 L1390.6 108.5 L1392.6 106.7 L1394.6 105.2 L1396.6 104.0 L1398.6 103.0 L1400.6 102.2 L1402.6 101.7 L1404.6 101.5 L1406.6 101.5 L1408.6 101.8 L1410.6 102.4 L1412.6 103.2 L1414.6 104.2 L1416.6 105.6 L1418.6 107.1 L1420.6 108.9 L1422.6 110.9 L1424.6 113.2 L1426.6 115.7 L1428.6 118.3 L1430.6 121.2 L1432.6 124.3 L1434.6 127.6 L1436.6 131.0 L1438.6 134.6 L1440.6 138.4 L1442.6 142.3 L1444.6 146.3 L1446.6 150.4 L1448.6 154.6 L1450.6 158.9 L1452.6 163.3 L1454.6 167.7 L1456.6 172.2 L1458.6 176.6 L1460.6 181.1 L1462.6 185.6 L1464.6 190.1 L1466.6 194.5 L1468.6 198.9 L1470.6 203.2 L1472.6 207.5 L1474.6 211.6 L1476.6 215.7 L1478.6 219.6 L1480.6 223.4 L1482.6 227.0 L1484.6 230.5 L1486.6 233.8 L1488.6 236.9 L1490.6 239.9 L1492.6 242.6 L1494.6 245.2 L1496.6 247.5 L1498.6 249.6 L1500.6 251.4 L1502.6 253.0 L1504.6 254.4 L1506.6 255.5 L1508.6 256.4 L1510.6 257.0 L1512.6 257.4 L1514.6 257.5 L1516.6 257.3 L1518.6 256.9 L1520.6 256.3 L1522.6 255.3 L1524.6 254.1 L1526.6 252.7 L1528.6 251.0 L1530.6 249.1 L1532.6 247.0 L1534.6 244.6 L1536.6 242.1 L1538.6 239.3 L1540.6 236.3 L1542.6 233.1 L1544.6 229.8 L1546.6 226.2 L1548.6 222.6 L1550.6 218.8 L1552.6 214.8 L1554.6 210.7 L1556.6 206.6 L1558.6 202.3 L1560.6 198.0 L1562.6 193.6 L1564.6 189.1 L1566.6 184.7 L1568.6 180.2 L1570.6 175.7 L1572.6 171.2 L1574.6 166.7 L1576.6 162.3 L1578.6 158.0 L1580.6 153.7 L1582.6 149.5 L1584.6 145.4 L1586.6 141.4 L1588.6 137.6 L1590.6 133.8 L1592.6 130.3 L1594.6 126.9 L1596.6 123.6 L1598.6 120.6 L1600.6 117.8 L1602.6 115.1 L1604.6 112.7 L1606.6 110.5 L1608.6 108.5 L1610.6 106.8 L1612.6 105.3 L1614.6 104.0 L1616.6 103.0 L1618.6 102.2 L1620.6 101.8 L1622.6 101.5 L1624.6 101.5 L1626.6 101.8 L1628.6 102.4 L1630.6 103.2 L1632.6 104.2 L1634.6 105.5 L1636.6 107.1 L1638.6 108.9 L1640.6 110.9 L1642.6 113.1 L1644.6 115.6 L1646.6 118.3 L1648.6 121.2 L1650.6 124.2 L1652.6 127.5 L1654.6 130.9 L1656.6 134.5 L1658.6 138.3 L1660.6 142.2 L1662.6 146.2 L1664.6 150.3 L1666.6 154.5 L1668.6 158.8 L1670.6 163.2 L1672.6 167.6 L1674.6 172.0 L1676.6 176.5 L1678.6 181.0 L1680.6 185.5 L1682.6 190.0 L1684.6 194.4 L1686.6 198.8 L1688.6 203.1 L1690.6 207.4 L1692.6 211.5 L1694.6 215.6 L1696.6 219.5 L1698.6 223.3 L1700.6 226.9 L1702.6 230.4 L1704.6 233.7 L1706.6 236.9 L1708.6 239.8 L1710.6 242.6 L1712.6 245.1 L1714.6 247.4 L1716.6 249.5 L1718.6 251.4 L1720.6 253.0 L1722.6 254.4 L1724.6 255.5 L1726.6 256.4 L1728.6 257.0 L1730.6 257.4 L1732.6 257.5 L1734.6 257.3 L1736.6 256.9 L1738.6 256.3 L1740.6 255.4 L1742.6 254.2 L1744.6 252.8 L1746.6 251.1 L1748.6 249.2 L1750.6 247.1 L1752.6 244.7 L1754.6 242.1 L1756.6 239.3 L1758.6 236.4 L1760.6 233.2 L1762.6 229.8 L1764.6 226.3 L1766.6 222.7 L1768.6 218.8 L1770.6 214.9 L1772.6 210.8 L1774.6 206.7 L1776.6 202.4 L1778.6 198.1 L1780.6 193.7 L1782.6 189.3 L1784.6 184.8 L1786.6 180.3 L1788.6 175.8 L1790.6 171.3 L1792.6 166.9 L1794.6 162.4 L1796.6 158.1 L1798.6 153.8 L1800.6 149.6 L1802.6 145.5 L1804.6 141.5 L1806.6 137.7 L1808.6 133.9 L1810.6 130.4 L1812.6 127.0 L1814.6 123.7 L1816.6 120.7 L1818.6 117.8 L1820.6 115.2 L1822.6 112.7 L1824.6 110.5 L1826.6 108.5 L1828.6 106.8 L1830.6 105.3 L1832.6 104.0 L1834.6 103.0 L1836.6 102.3 L1838.6 101.8 L1840.6 101.5 L1842.6 101.5 L1844.6 101.8 L1846.6 102.4 L1848.6 103.1 L1850.6 104.2 L1852.6 105.5 L1854.6 107.0 L1856.6 108.8 L1858.6 110.8 L1860.6 113.1 L1862.6 115.5 L1864.6 118.2 L1866.6 121.1 L1868.6 124.2 L1870.6 127.4 L1872.6 130.8 L1874.6 134.4 L1876.6 138.2 L1878.6 142.1 L1880.6 146.1 L1882.6 150.2 L1884.6 154.4 L1886.6 158.7 L1888.6 163.0 L1890.6 167.5 L1892.6 171.9 L1894.6 176.4 L1896.6 180.9 L1898.6 185.4 L1900.6 189.9 L1902.6 194.3 L1904.6 198.7 L1906.6 203.0 L1908.6 207.3 L1910.6 211.4 L1912.6 215.5 L1914.6 219.4 L1916.6 223.2 L1918.6 226.8 L1920.6 230.3 L1922.6 233.6 L1924.6 236.8 L1926.6 239.7 L1928.6 242.5 L1930.6 245.0 L1932.6 247.4 L1934.6 249.5 L1936.6 251.3 L1938.6 253.0 L1940.6 254.4 L1942.6 255.5 L1944.6 256.4 L1946.6 257.0 L1948.6 257.4 L1950.6 257.5 L1952.6 257.4 L1954.6 257.0 L1956.6 256.3 L1958.6 255.4 L1960.6 254.2 L1962.6 252.8 L1964.6 251.1 L1966.6 249.2 L1968.6 247.1 L1970.6 244.8 L1972.6 242.2 L1974.6 239.4 L1976.6 236.4 L1978.6 233.3 L1980.6 229.9 L1982.6 226.4 L1984.6 222.8 L1986.6 218.9 L1988.6 215.0 L1990.6 210.9 L1992.6 206.8 L1994.6 202.5 L1996.6 198.2 L1998.6 193.8 L2000.6 189.4 L2002.6 184.9 L2004.6 180.4 L2006.6 175.9 L2008.6 171.4 L2010.6 167.0 L2012.6 162.6 L2014.6 158.2 L2016.6 153.9 L2018.6 149.7 L2020.6 145.6 L2022.6 141.6 L2024.6 137.8 L2026.6 134.0 L2028.6 130.5 L2030.6 127.0 L2032.6 123.8 L2034.6 120.7 L2036.6 117.9 L2038.6 115.2 L2040.6 112.8 L2042.6 110.6 L2044.6 108.6 L2046.6 106.8 L2048.6 105.3 L2050.6 104.1 L2052.6 103.0 L2054.6 102.3 L2056.6 101.8 L2058.6 101.5 L2060.6 101.5 L2062.6 101.8 L2064.6 102.3 L2066.6 103.1 L2068.6 104.2 L2070.6 105.4 L2072.6 107.0 L2074.6 108.8 L2076.6 110.8 L2078.6 113.0 L2080.6 115.5 L2082.6 118.1 L2084.6 121.0 L2086.6 124.1 L2088.6 127.3 L2090.6 130.8 L2092.6 134.3 L2094.6 138.1 L2096.6 142.0 L2098.6 146.0 L2100.6 150.1 L2102.6 154.3 L2104.6 158.6 L2106.6 162.9 L2108.6 167.4 L2110.6 171.8 L2112.6 176.3 L2114.6 180.8 L2116.6 185.3 L2118.6 189.8 L2120.6 194.2 L2122.6 198.6 L2124.6 202.9 L2126.6 207.1 L2128.6 211.3 L2130.6 215.4 L2132.6 219.3 L2134.6 223.1 L2136.6 226.7 L2138.6 230.2 L2140.6 233.6 L2142.6 236.7 L2144.6 239.7 L2146.6 242.4 L2148.6 245.0 L2150.6 247.3 L2152.6 249.4 L2154.6 251.3 L2156.6 252.9 L2158.6 254.3 L2160.6 255.5 L2162.6 256.4 L2164.6 257.0 L2166.6 257.4 L2168.6 257.5 L2170.6 257.4 L2172.6 257.0 L2174.6 256.3 L2176.6 255.4 L2178.6 254.2 L2180.6 252.8 L2182.6 251.2 L2184.6 249.3 L2186.6 247.2 L2188.6 244.8 L2190.6 242.3 L2192.6 239.5 L2194.6 236.5 L2196.6 233.4 L2198.6 230.0 L2200.6 226.5 L2202.6 222.8 L2204.6 219.0 L2206.6 215.1 L2208.6 211.0 L2210.6 206.9 L2212.6 202.6 L2214.6 198.3 L2216.6 193.9 L2218.6 189.5 L2220.6 185.0 L2222.6 180.5 L2224.6 176.0 L2226.6 171.5 L2228.6 167.1 L2230.6 162.7 L2232.6 158.3 L2234.6 154.0 L2236.6 149.8 L2238.6 145.7 L2240.6 141.7 L2242.6 137.8 L2244.6 134.1 L2246.6 130.5 L2248.6 127.1 L2250.6 123.9 L2252.6 120.8 L2254.6 118.0 L2256.6 115.3 L2258.6 112.9 L2260.6 110.6 L2262.6 108.6 L2264.6 106.9 L2266.6 105.4 L2268.6 104.1 L2270.6 103.1 L2272.6 102.3 L2274.6 101.8 L2276.6 101.5 L2278.6 101.5 L2280.6 101.8 L2282.6 102.3 L2284.6 103.1 L2286.6 104.1 L2288.6 105.4 L2290.6 106.9 L2292.6 108.7 L2294.6 110.7 L2296.6 112.9 L2298.6 115.4 L2300.6 118.1 L2302.6 120.9 L2304.6 124.0 L2306.6 127.2 L2308.6 130.7 L2310.6 134.3 L2312.6 138.0 L2314.6 141.9 L2316.6 145.9 L2318.6 150.0 L2320.6 154.2 L2322.6 158.5 L2324.6 162.8 L2326.6 167.2 L2328.6 171.7 L2330.6 176.2 L2332.6 180.7 L2334.6 185.2 L2336.6 189.6 L2338.6 194.1 L2340.6 198.5 L2342.6 202.8 L2344.6 207.0 L2346.6 211.2 L2348.6 215.3 L2350.6 219.2 L2352.6 223.0 L2354.6 226.6 L2356.6 230.1 L2358.6 233.5 L2360.6 236.6 L2362.6 239.6 L2364.6 242.4 L2366.6 244.9 L2368.6 247.3 L2370.6 249.4 L2372.6 251.2 L2374.6 252.9 L2376.6 254.3 L2378.6 255.4 L2380.6 256.3 L2382.6 257.0 L2384.6 257.4 L2386.6 257.5 L2388.6 257.4 L2390.6 257.0 L2392.6 256.3 L2394.6 255.4 L2396.6 254.3 L2398.6 252.9 L2400.6 251.2 L2402.6 249.3 L2404.6 247.2 L2406.6 244.9 L2408.6 242.3 L2410.6 239.6 L2412.6 236.6 L2414.6 233.4 L2416.6 230.1 L2418.6 226.6 L2420.6 222.9 L2422.6 219.1 L2424.6 215.2 L2426.6 211.2 L2428.6 207.0 L2430.6 202.7 L2432.6 198.4 L2434.6 194.0 L2436.6 189.6 L2438.6 185.1 L2439.6 182.9" fill="none" stroke="url(#wgI)" stroke-width="5" stroke-linecap="butt" stroke-linejoin="round"/><line x1="260.5" y1="28.6" x2="260.5" y2="334" stroke="#0c0c0c" stroke-width="6.5" stroke-dasharray="4.6 12.07"/><line x1="505.8" y1="28.6" x2="505.8" y2="334" stroke="#0c0c0c" stroke-width="6.5" stroke-dasharray="4.6 12.07"/><line x1="751.1" y1="28.6" x2="751.1" y2="334" stroke="#0c0c0c" stroke-width="6.5" stroke-dasharray="4.6 12.07"/><line x1="996.4" y1="28.6" x2="996.4" y2="334" stroke="#0c0c0c" stroke-width="6.5" stroke-dasharray="4.6 12.07"/><line x1="1241.7" y1="28.6" x2="1241.7" y2="334" stroke="#0c0c0c" stroke-width="6.5" stroke-dasharray="4.6 12.07"/><line x1="1487.0" y1="28.6" x2="1487.0" y2="334" stroke="#0c0c0c" stroke-width="6.5" stroke-dasharray="4.6 12.07"/><line x1="1732.3" y1="28.6" x2="1732.3" y2="334" stroke="#0c0c0c" stroke-width="6.5" stroke-dasharray="4.6 12.07"/><line x1="1977.6" y1="28.6" x2="1977.6" y2="334" stroke="#0c0c0c" stroke-width="6.5" stroke-dasharray="4.6 12.07"/><line x1="2222.9" y1="28.6" x2="2222.9" y2="334" stroke="#0c0c0c" stroke-width="6.5" stroke-dasharray="4.6 12.07"/><line x1="503.8" y1="179.3" x2="696.7" y2="179.3" stroke="#0a0a0a" stroke-width="8"/><line x1="749.1" y1="179.3" x2="914.8" y2="179.3" stroke="#0a0a0a" stroke-width="8"/><line x1="994.4" y1="179.3" x2="1132.8" y2="179.3" stroke="#0a0a0a" stroke-width="8"/><line x1="1239.7" y1="179.3" x2="1350.8" y2="179.3" stroke="#0a0a0a" stroke-width="8"/><line x1="1485.0" y1="179.3" x2="1568.9" y2="179.3" stroke="#0a0a0a" stroke-width="8"/><line x1="1730.3" y1="179.3" x2="1787.0" y2="179.3" stroke="#0a0a0a" stroke-width="8"/><line x1="1975.6" y1="179.3" x2="2005.0" y2="179.3" stroke="#0a0a0a" stroke-width="8"/><circle cx="260.6" cy="179.3" r="12.3" fill="#0a0a0a"/><circle cx="478.7" cy="179.3" r="12.3" fill="#0a0a0a"/><circle cx="696.7" cy="179.3" r="12.3" fill="#0a0a0a"/><circle cx="914.8" cy="179.3" r="12.3" fill="#0a0a0a"/><circle cx="1132.8" cy="179.3" r="12.3" fill="#0a0a0a"/><circle cx="1350.8" cy="179.3" r="12.3" fill="#0a0a0a"/><circle cx="1568.9" cy="179.3" r="12.3" fill="#0a0a0a"/><circle cx="1787.0" cy="179.3" r="12.3" fill="#0a0a0a"/><circle cx="2005.0" cy="179.3" r="12.3" fill="#0a0a0a"/><circle cx="2223.1" cy="179.3" r="12.3" fill="#0a0a0a"/><circle cx="2439.6" cy="180.5" r="12.3" fill="#0a0a0a"/><rect x="260.5" y="365.4" width="2211" height="101" fill="#e4e4e4"/><line x1="258.5" y1="417.8" x2="2466" y2="417.8" stroke="#fafafa" stroke-width="2"/><line x1="258.5" y1="413.6" x2="2466" y2="413.6" stroke="#cfcfcf" stroke-width="2"/><rect x="505.8" y="415.6" width="245.3" height="12.9" fill="#efe635" stroke="#6b6b3a" stroke-width="1.3"/><rect x="751.1" y="415.6" width="245.3" height="25.8" fill="#e2e23c" stroke="#6b6b3a" stroke-width="1.3"/><rect x="996.4" y="415.6" width="245.3" height="38.7" fill="#ffe96f" stroke="#6b6b3a" stroke-width="1.3"/><rect x="1241.7" y="415.6" width="245.3" height="51.6" fill="#ffe96f" stroke="#6b6b3a" stroke-width="1.3"/><rect x="1487.0" y="376.9" width="245.3" height="38.7" fill="#ffe96f" stroke="#6b6b3a" stroke-width="1.3"/><rect x="1732.3" y="389.8" width="245.3" height="25.8" fill="#f2ee58" stroke="#6b6b3a" stroke-width="1.3"/><rect x="1977.6" y="402.7" width="245.3" height="12.9" fill="#d9ea3c" stroke="#6b6b3a" stroke-width="1.3"/><line x1="258.5" y1="415.6" x2="2466" y2="415.6" stroke="#3a3a3a" stroke-width="1.6"/><rect x="260.5" y="498.0" width="2211" height="101.5" fill="#e4e4e4"/><rect x="505.8" y="499.0" width="245.3" height="12.9" fill="#e8bc38"/><rect x="505.8" y="499.0" width="245.3" height="5.0" fill="#ff9e50"/><rect x="505.8" y="499.0" width="245.3" height="12.9" fill="none" stroke="#5a3a1a" stroke-width="1.4"/><rect x="751.1" y="499.0" width="245.3" height="25.8" fill="#fba24c"/><rect x="751.1" y="499.0" width="245.3" height="9.0" fill="#ff9e50"/><rect x="751.1" y="499.0" width="245.3" height="25.8" fill="none" stroke="#5a3a1a" stroke-width="1.4"/><rect x="996.4" y="499.0" width="245.3" height="38.7" fill="#f6ae49"/><rect x="996.4" y="499.0" width="245.3" height="9.0" fill="#ff9e50"/><rect x="996.4" y="499.0" width="245.3" height="38.7" fill="none" stroke="#5a3a1a" stroke-width="1.4"/><rect x="1241.7" y="499.0" width="245.3" height="51.6" fill="#f6ae49"/><rect x="1241.7" y="499.0" width="245.3" height="9.0" fill="#ff9e50"/><rect x="1241.7" y="499.0" width="245.3" height="51.6" fill="none" stroke="#5a3a1a" stroke-width="1.4"/><rect x="1487.0" y="499.0" width="245.3" height="64.5" fill="#f6ae49"/><rect x="1487.0" y="499.0" width="245.3" height="9.0" fill="#ff9e50"/><rect x="1487.0" y="499.0" width="245.3" height="64.5" fill="none" stroke="#5a3a1a" stroke-width="1.4"/><rect x="1732.3" y="499.0" width="245.3" height="77.4" fill="#f6ae49"/><rect x="1732.3" y="499.0" width="245.3" height="9.0" fill="#ff9e50"/><rect x="1732.3" y="499.0" width="245.3" height="77.4" fill="none" stroke="#5a3a1a" stroke-width="1.4"/><rect x="1977.6" y="499.0" width="245.3" height="90.3" fill="#f6ae49"/><rect x="1977.6" y="499.0" width="245.3" height="9.0" fill="#ff9e50"/><rect x="1977.6" y="499.0" width="245.3" height="90.3" fill="none" stroke="#5a3a1a" stroke-width="1.4"/><rect x="2222.9" y="499.0" width="245.7" height="103.2" fill="#f6ae49"/><rect x="2222.9" y="499.0" width="245.7" height="9.0" fill="#ff9e50"/><rect x="2222.9" y="499.0" width="245.7" height="103.2" fill="none" stroke="#5a3a1a" stroke-width="1.4"/><line x1="258.5" y1="499.0" x2="505.8" y2="499.0" stroke="#2a2a2a" stroke-width="1.6"/><rect x="260.5" y="632.0" width="2206" height="103.7" fill="#e4e4e4"/><rect x="505.8" y="681.1" width="1962.2" height="3" fill="#f7b4c4"/><rect x="505.8" y="697.8" width="1962.2" height="3" fill="#f4bcd0"/><rect x="505.8" y="684.3" width="245.3" height="13.6" fill="#df5a3e" stroke="#6a2a22" stroke-width="1.3"/><rect x="751.1" y="684.3" width="245.3" height="13.6" fill="#df5a3e" stroke="#6a2a22" stroke-width="1.3"/><rect x="996.4" y="684.3" width="245.3" height="13.6" fill="#df5a3e" stroke="#6a2a22" stroke-width="1.3"/><rect x="1241.7" y="684.3" width="245.3" height="13.6" fill="#df5a3e" stroke="#6a2a22" stroke-width="1.3"/><rect x="1487.0" y="684.3" width="245.3" height="13.6" fill="#df5a3e" stroke="#6a2a22" stroke-width="1.3"/><rect x="1732.3" y="684.3" width="245.3" height="13.6" fill="#df5a3e" stroke="#6a2a22" stroke-width="1.3"/><rect x="1977.6" y="684.3" width="245.3" height="13.6" fill="#df5a3e" stroke="#6a2a22" stroke-width="1.3"/><rect x="2222.9" y="684.3" width="245.1" height="13.6" fill="#df5a3e" stroke="#6a2a22" stroke-width="1.3"/><line x1="258.5" y1="684.6" x2="505.8" y2="684.6" stroke="#2a2a2a" stroke-width="1.6"/><g font-family="'Liberation Sans', sans-serif" fill="#1c1c1c"><text x="130.0" y="173.9" font-size="39" text-anchor="middle" textLength="92.0" lengthAdjust="spacingAndGlyphs">Wave</text><text x="130.4" y="224.4" font-size="39" text-anchor="middle" textLength="176.8" lengthAdjust="spacingAndGlyphs">w/ Frames</text><text x="130.2" y="431.6" font-size="38" text-anchor="middle" textLength="99.6" lengthAdjust="spacingAndGlyphs">Phase</text><text x="129.8" y="543.0" font-size="38" text-anchor="middle" textLength="202.0" lengthAdjust="spacingAndGlyphs">Unwrapped</text><text x="130.7" y="581.0" font-size="38" text-anchor="middle" textLength="98.1" lengthAdjust="spacingAndGlyphs">Phase</text><text x="130.1" y="673.3" font-size="38" text-anchor="middle" textLength="244.3" lengthAdjust="spacingAndGlyphs">Instantaneous</text><text x="130.7" y="711.7" font-size="38" text-anchor="middle" textLength="178.9" lengthAdjust="spacingAndGlyphs">Frequency</text></g>
<text x="2508.0" y="392.5" font-size="54" font-family="'Liberation Serif', serif" font-style="italic" stroke="#1c1c1c" stroke-width="0.9" fill="#1c1c1c">π</text><text x="2483.5" y="457.7" font-size="38" font-family="'Liberation Sans', sans-serif" fill="#1c1c1c">-</text><text x="2508.0" y="457.7" font-size="54" font-family="'Liberation Serif', serif" font-style="italic" stroke="#1c1c1c" stroke-width="0.9" fill="#1c1c1c">π</text><text x="2506.0" y="533.8" font-size="37" font-family="'Liberation Sans', sans-serif" fill="#1c1c1c">0</text><text x="2480.5" y="593.8" font-size="37" font-family="'Liberation Sans', sans-serif" fill="#1c1c1c">-2</text><text x="2517.0" y="593.8" font-size="54" font-family="'Liberation Serif', serif" font-style="italic" stroke="#1c1c1c" stroke-width="0.9" fill="#1c1c1c">π</text><text x="2508.0" y="667.4" font-size="54" font-family="'Liberation Serif', serif" font-style="italic" stroke="#1c1c1c" stroke-width="0.9" fill="#1c1c1c">π</text><text x="2486.0" y="732.3" font-size="38" font-family="'Liberation Sans', sans-serif" fill="#1c1c1c">-</text><text x="2508.0" y="732.3" font-size="54" font-family="'Liberation Serif', serif" font-style="italic" stroke="#1c1c1c" stroke-width="0.9" fill="#1c1c1c">π</text>
<rect x="71.3" y="841.5" width="535.0" height="548.0" fill="#080808"/><rect x="71.3" y="1024" width="400.7" height="16" fill="#1c1c1c"/><rect x="71.3" y="1040" width="408.7" height="170" fill="#1c1c1c"/><rect x="216" y="1024" width="16" height="16" fill="#080808"/><rect x="232" y="1032" width="40" height="8" fill="#080808"/><rect x="288" y="1024" width="40" height="8" fill="#080808"/><rect x="344" y="1024" width="16" height="8" fill="#080808"/><rect x="368" y="1024" width="8" height="8" fill="#080808"/><rect x="184" y="1040" width="8" height="8" fill="#080808"/><rect x="232" y="1040" width="8" height="8" fill="#080808"/><rect x="408" y="1032" width="8" height="8" fill="#080808"/><rect x="88" y="904" width="8" height="8" fill="#1c1c1c"/><rect x="112" y="904" width="8" height="8" fill="#1c1c1c"/><rect x="88" y="920" width="16" height="8" fill="#1c1c1c"/><rect x="128" y="920" width="8" height="8" fill="#1c1c1c"/><rect x="112" y="936" width="8" height="8" fill="#1c1c1c"/><rect x="88" y="952" width="8" height="8" fill="#1c1c1c"/><rect x="120" y="976" width="8" height="8" fill="#1c1c1c"/><rect x="104" y="984" width="8" height="8" fill="#1c1c1c"/><rect x="88" y="992" width="40" height="8" fill="#1c1c1c"/><rect x="88" y="1008" width="48" height="8" fill="#1c1c1c"/><rect x="384" y="880" width="8" height="8" fill="#1c1c1c"/><rect x="280" y="936" width="8" height="8" fill="#1c1c1c"/><rect x="272" y="976" width="8" height="8" fill="#1c1c1c"/><rect x="248" y="992" width="8" height="8" fill="#1c1c1c"/><rect x="304" y="1008" width="16" height="8" fill="#1c1c1c"/><rect x="416" y="976" width="8" height="8" fill="#1c1c1c"/><rect x="432" y="992" width="8" height="8" fill="#1c1c1c"/><rect x="384" y="1008" width="8" height="8" fill="#1c1c1c"/><rect x="432" y="1008" width="16" height="8" fill="#1c1c1c"/><rect x="80" y="1128.0" width="400" height="261.5" fill="url(#lmG)"/><rect x="80" y="1128" width="400" height="74" fill="url(#lmPurp)"/><rect x="480" y="1222" width="18" height="159.0" fill="url(#lmG)"/><rect x="480" y="1222" width="18" height="159.0" fill="#ff2a80" fill-opacity="0.3"/><rect x="480" y="1222" width="18" height="159.0" fill="url(#lmFade)"/><rect x="480" y="1180" width="16" height="42" fill="#1a1a1a"/><rect x="96" y="1024" width="16" height="16" fill="#201848"/><rect x="144" y="1056" width="16" height="16" fill="#201848"/><rect x="256" y="1056" width="16" height="32" fill="#201848"/><rect x="288" y="1056" width="32" height="16" fill="#201848"/><rect x="368" y="1056" width="48" height="16" fill="#201848"/><rect x="432" y="1056" width="32" height="16" fill="#201848"/><rect x="128" y="1072" width="16" height="16" fill="#201848"/><rect x="160" y="1072" width="32" height="16" fill="#201848"/><rect x="224" y="1072" width="16" height="16" fill="#201848"/><rect x="368" y="1072" width="32" height="16" fill="#201848"/><rect x="416" y="1072" width="32" height="16" fill="#201848"/><rect x="112" y="1088" width="32" height="8" fill="#201848"/><rect x="208" y="1088" width="16" height="32" fill="#201848"/><rect x="240" y="1088" width="32" height="16" fill="#201848"/><rect x="352" y="1088" width="32" height="16" fill="#201848"/><rect x="400" y="1088" width="48" height="16" fill="#201848"/><rect x="160" y="1104" width="16" height="16" fill="#201848"/><rect x="240" y="1104" width="16" height="16" fill="#201848"/><rect x="352" y="1104" width="16" height="16" fill="#201848"/><rect x="448" y="1104" width="16" height="16" fill="#201848"/><rect x="160" y="1120" width="48" height="12" fill="#201848"/><rect x="288" y="1120" width="32" height="12" fill="#201848"/><rect x="336" y="1120" width="16" height="12" fill="#201848"/><rect x="368" y="1120" width="32" height="12" fill="#201848"/><rect x="416" y="1120" width="16" height="12" fill="#201848"/><rect x="240" y="1120" width="16" height="12" fill="#34084a"/><rect x="320" y="1120" width="16" height="12" fill="#34084a"/><rect x="352" y="1120" width="16" height="12" fill="#34084a"/><rect x="400" y="1120" width="16" height="12" fill="#34084a"/><rect x="176" y="1098.5" width="304" height="3" fill="#3a3a3e" fill-opacity="0.8"/><rect x="80" y="1115" width="400" height="2.4" fill="#0c0c0c" fill-opacity="0.8"/><rect x="80" y="1121.5" width="400" height="3" fill="#4a2060" fill-opacity="0.5"/><rect x="80" y="1040" width="48" height="96" fill="#3a0a4a"/><rect x="128" y="1056" width="32" height="16" fill="#34084a"/><rect x="144" y="1072" width="16" height="16" fill="#3a0a4a"/><rect x="144" y="1088" width="16" height="16" fill="#4a1028"/><rect x="128" y="1104" width="16" height="28" fill="#4a1030"/><rect x="80" y="1050" width="48" height="4" fill="#5a1868"/><rect x="80" y="1066" width="64" height="4" fill="#6a2070"/><rect x="80" y="1083" width="48" height="4" fill="#5a1a66"/><rect x="80" y="1099" width="64" height="4" fill="#a01878"/><rect x="80" y="1121" width="48" height="4" fill="#5a1a70"/><rect x="144" y="1269.5" width="64" height="7" fill="#2a2070" fill-opacity="0.45"/><rect x="352" y="1341.5" width="16" height="7" fill="#801080" fill-opacity="0.45"/><rect x="96" y="1197.5" width="32" height="7" fill="#2a2070" fill-opacity="0.45"/><rect x="288" y="1341.5" width="64" height="7" fill="#2a2070" fill-opacity="0.45"/><rect x="112" y="1305.5" width="64" height="7" fill="#2a2070" fill-opacity="0.45"/><rect x="128" y="1197.5" width="32" height="7" fill="#701070" fill-opacity="0.45"/><rect x="368" y="1359.5" width="64" height="7" fill="#2a2070" fill-opacity="0.45"/><rect x="96" y="1305.5" width="32" height="7" fill="#801080" fill-opacity="0.45"/><rect x="144" y="1251.5" width="16" height="7" fill="#701070" fill-opacity="0.45"/><rect x="352" y="1287.5" width="32" height="7" fill="#2a2070" fill-opacity="0.45"/><rect x="368" y="1197.5" width="32" height="7" fill="#801080" fill-opacity="0.45"/><rect x="352" y="1341.5" width="16" height="7" fill="#701070" fill-opacity="0.45"/><rect x="384" y="1359.5" width="32" height="7" fill="#20104a" fill-opacity="0.45"/><rect x="352" y="1179.5" width="64" height="7" fill="#801080" fill-opacity="0.45"/><rect x="368" y="1233.5" width="64" height="7" fill="#801080" fill-opacity="0.45"/><rect x="192" y="1287.5" width="32" height="7" fill="#3a2a80" fill-opacity="0.45"/><rect x="368" y="1341.5" width="48" height="7" fill="#701070" fill-opacity="0.45"/><rect x="240" y="1233.5" width="64" height="7" fill="#801080" fill-opacity="0.45"/><rect x="112" y="1197.5" width="16" height="7" fill="#701070" fill-opacity="0.45"/><rect x="160" y="1251.5" width="48" height="7" fill="#3a2a80" fill-opacity="0.45"/><rect x="288" y="1233.5" width="16" height="7" fill="#2a2070" fill-opacity="0.45"/><rect x="352" y="1143.5" width="48" height="7" fill="#801080" fill-opacity="0.45"/><rect x="256" y="1161.5" width="64" height="7" fill="#701070" fill-opacity="0.45"/><rect x="304" y="1143.5" width="16" height="7" fill="#2a2070" fill-opacity="0.45"/><rect x="320" y="1287.5" width="16" height="7" fill="#2a2070" fill-opacity="0.45"/><rect x="432" y="1161.5" width="48" height="7" fill="#701070" fill-opacity="0.45"/><rect x="304" y="1179.5" width="48" height="7" fill="#20104a" fill-opacity="0.45"/><rect x="256" y="1179.5" width="16" height="7" fill="#20104a" fill-opacity="0.45"/><rect x="160" y="1269.5" width="16" height="7" fill="#20104a" fill-opacity="0.45"/><rect x="176" y="1359.5" width="48" height="7" fill="#3a2a80" fill-opacity="0.45"/><rect x="192" y="1161.5" width="64" height="7" fill="#20104a" fill-opacity="0.45"/><rect x="112" y="1233.5" width="32" height="7" fill="#20104a" fill-opacity="0.45"/><rect x="352" y="1251.5" width="48" height="7" fill="#3a2a80" fill-opacity="0.45"/><rect x="352" y="1251.5" width="48" height="7" fill="#20104a" fill-opacity="0.45"/><rect x="416" y="1269.5" width="64" height="7" fill="#3a2a80" fill-opacity="0.45"/><rect x="112" y="1323.5" width="32" height="7" fill="#3a2a80" fill-opacity="0.45"/><rect x="416" y="1305.5" width="32" height="7" fill="#2a2070" fill-opacity="0.45"/><rect x="368" y="1233.5" width="32" height="7" fill="#801080" fill-opacity="0.45"/><rect x="80" y="1287.5" width="32" height="7" fill="#20104a" fill-opacity="0.45"/><rect x="256" y="1215.5" width="48" height="7" fill="#3a2a80" fill-opacity="0.45"/><rect x="336" y="1161.5" width="16" height="7" fill="#20104a" fill-opacity="0.45"/><rect x="416" y="1143.5" width="64" height="7" fill="#20104a" fill-opacity="0.45"/><rect x="272" y="1251.5" width="16" height="7" fill="#20104a" fill-opacity="0.45"/><rect x="272" y="1179.5" width="16" height="7" fill="#3a2a80" fill-opacity="0.45"/><rect x="176" y="1341.5" width="64" height="7" fill="#3a2a80" fill-opacity="0.45"/><rect x="240" y="1341.5" width="16" height="7" fill="#2a2070" fill-opacity="0.45"/><rect x="80" y="1250" width="64" height="139.5" fill="#ff40a0" fill-opacity="0.10"/><rect x="71.3" y="1010" width="8.7" height="158" fill="#1a1a1a"/><rect x="71.3" y="1168" width="8.7" height="221.5" fill="#5e1030"/><rect x="71.3" y="841.5" width="535.0" height="3" fill="#000"/><rect x="71.3" y="1386.5" width="535.0" height="3" fill="#000"/><rect x="600.3" y="841.5" width="2" height="548.0" fill="#1e1e1e"/>
<rect x="713.9" y="841.4" width="535.0" height="548.2" fill="#d31c57"/><rect x="713.9" y="841.4" width="430.1" height="548.2" filter="url(#nPink)"/><g filter="url(#nOrange)"><rect x="713.9" y="841.4" width="0.1" height="0.1"/><rect x="720" y="880" width="16" height="16"/><rect x="720" y="912" width="16" height="16"/><rect x="720" y="1264" width="16" height="16"/><rect x="736" y="1072" width="16" height="16"/><rect x="736" y="1232" width="16" height="16"/><rect x="736" y="1248" width="16" height="16"/><rect x="752" y="960" width="16" height="16"/><rect x="752" y="1152" width="16" height="16"/><rect x="752" y="1280" width="16" height="16"/><rect x="752" y="1296" width="16" height="16"/><rect x="752" y="1328" width="16" height="16"/><rect x="768" y="864" width="16" height="16"/><rect x="768" y="1040" width="16" height="16"/><rect x="768" y="1072" width="16" height="16"/><rect x="768" y="1104" width="16" height="16"/><rect x="784" y="864" width="16" height="16"/><rect x="784" y="1056" width="16" height="16"/><rect x="784" y="1104" width="16" height="16"/><rect x="800" y="1184" width="16" height="16"/><rect x="800" y="1296" width="16" height="16"/><rect x="816" y="928" width="16" height="16"/><rect x="816" y="1056" width="16" height="16"/><rect x="816" y="1120" width="16" height="16"/><rect x="816" y="1232" width="16" height="16"/><rect x="816" y="1296" width="16" height="16"/><rect x="832" y="848" width="16" height="16"/><rect x="832" y="912" width="16" height="16"/><rect x="832" y="944" width="16" height="16"/><rect x="832" y="992" width="16" height="16"/><rect x="832" y="1120" width="16" height="16"/><rect x="832" y="1168" width="16" height="16"/><rect x="832" y="1280" width="16" height="16"/><rect x="832" y="1296" width="16" height="16"/><rect x="848" y="928" width="16" height="16"/><rect x="848" y="1008" width="16" height="16"/><rect x="848" y="1056" width="16" height="16"/><rect x="848" y="1072" width="16" height="16"/><rect x="848" y="1104" width="16" height="16"/><rect x="848" y="1120" width="16" height="16"/><rect x="848" y="1184" width="16" height="16"/><rect x="848" y="1248" width="16" height="16"/><rect x="864" y="1008" width="16" height="16"/><rect x="864" y="1024" width="16" height="16"/><rect x="864" y="1040" width="16" height="16"/><rect x="864" y="1200" width="16" height="16"/><rect x="864" y="1248" width="16" height="16"/><rect x="864" y="1312" width="16" height="16"/><rect x="880" y="880" width="16" height="16"/><rect x="880" y="976" width="16" height="16"/><rect x="880" y="1072" width="16" height="16"/><rect x="896" y="848" width="16" height="16"/><rect x="896" y="912" width="16" height="16"/><rect x="896" y="944" width="16" height="16"/><rect x="896" y="1008" width="16" height="16"/><rect x="896" y="1040" width="16" height="16"/><rect x="896" y="1200" width="16" height="16"/><rect x="896" y="1248" width="16" height="16"/><rect x="912" y="848" width="16" height="16"/><rect x="912" y="864" width="16" height="16"/><rect x="912" y="976" width="16" height="16"/><rect x="912" y="1120" width="16" height="16"/><rect x="912" y="1136" width="16" height="16"/><rect x="912" y="1152" width="16" height="16"/><rect x="912" y="1184" width="16" height="16"/><rect x="912" y="1216" width="16" height="16"/><rect x="912" y="1264" width="16" height="16"/><rect x="912" y="1280" width="16" height="16"/><rect x="912" y="1296" width="16" height="16"/><rect x="928" y="1024" width="16" height="16"/><rect x="928" y="1056" width="16" height="16"/><rect x="928" y="1072" width="16" height="16"/><rect x="928" y="1104" width="16" height="16"/><rect x="928" y="1152" width="16" height="16"/><rect x="928" y="1184" width="16" height="16"/><rect x="944" y="912" width="16" height="16"/><rect x="944" y="1008" width="16" height="16"/><rect x="944" y="1120" width="16" height="16"/><rect x="944" y="1200" width="16" height="16"/><rect x="960" y="1056" width="16" height="16"/><rect x="960" y="1280" width="16" height="16"/><rect x="976" y="864" width="16" height="16"/><rect x="976" y="896" width="16" height="16"/><rect x="976" y="1056" width="16" height="16"/><rect x="992" y="848" width="16" height="16"/><rect x="992" y="1056" width="16" height="16"/><rect x="992" y="1104" width="16" height="16"/><rect x="992" y="1200" width="16" height="16"/><rect x="1008" y="896" width="16" height="16"/><rect x="1008" y="1232" width="16" height="16"/><rect x="1008" y="1264" width="16" height="16"/><rect x="1024" y="880" width="16" height="16"/><rect x="1024" y="1056" width="16" height="16"/><rect x="1024" y="1120" width="16" height="16"/><rect x="1024" y="1136" width="16" height="16"/><rect x="1024" y="1168" width="16" height="16"/><rect x="1024" y="1328" width="16" height="16"/><rect x="1040" y="960" width="16" height="16"/><rect x="1040" y="1104" width="16" height="16"/><rect x="1040" y="1264" width="16" height="16"/><rect x="1040" y="1280" width="16" height="16"/><rect x="1040" y="1296" width="16" height="16"/><rect x="1040" y="1312" width="16" height="16"/><rect x="1056" y="896" width="16" height="16"/><rect x="1072" y="864" width="16" height="16"/><rect x="1072" y="976" width="16" height="16"/><rect x="1072" y="1040" width="16" height="16"/><rect x="1072" y="1104" width="16" height="16"/><rect x="1072" y="1120" width="16" height="16"/><rect x="1072" y="1248" width="16" height="16"/><rect x="1072" y="1264" width="16" height="16"/><rect x="1088" y="864" width="16" height="16"/><rect x="1088" y="912" width="16" height="16"/><rect x="1088" y="976" width="16" height="16"/><rect x="1088" y="1184" width="16" height="16"/><rect x="1104" y="848" width="16" height="16"/><rect x="1104" y="992" width="16" height="16"/><rect x="1104" y="1296" width="16" height="16"/><rect x="1120" y="912" width="16" height="16"/><rect x="1120" y="960" width="16" height="16"/><rect x="1120" y="992" width="16" height="16"/><rect x="1120" y="1184" width="16" height="16"/><rect x="1120" y="1296" width="16" height="16"/></g><rect x="736" y="1281" width="16" height="15" fill="#8a1848" fill-opacity="0.75"/><rect x="784" y="1281" width="16" height="15" fill="#b01850" fill-opacity="0.75"/><rect x="816" y="1281" width="16" height="15" fill="#701040" fill-opacity="0.75"/><rect x="864" y="1281" width="16" height="15" fill="#e83848" fill-opacity="0.75"/><rect x="992" y="1281" width="16" height="15" fill="#a01850" fill-opacity="0.75"/><rect x="1008" y="1281" width="16" height="15" fill="#b01858" fill-opacity="0.75"/><rect x="1104" y="1281" width="16" height="15" fill="#7a1890" fill-opacity="0.75"/><rect x="738" y="1282" width="3" height="10" fill="#fff" fill-opacity="0.85"/><rect x="739" y="1290" width="3" height="6" fill="#1a0812" fill-opacity="0.9"/><rect x="786" y="1282" width="3" height="10" fill="#fff" fill-opacity="0.85"/><rect x="787" y="1290" width="3" height="6" fill="#1a0812" fill-opacity="0.9"/><rect x="818" y="1282" width="3" height="10" fill="#fff" fill-opacity="0.85"/><rect x="819" y="1290" width="3" height="6" fill="#1a0812" fill-opacity="0.9"/><rect x="850" y="1282" width="3" height="10" fill="#fff" fill-opacity="0.85"/><rect x="851" y="1290" width="3" height="6" fill="#1a0812" fill-opacity="0.9"/><rect x="993" y="1282" width="3" height="10" fill="#fff" fill-opacity="0.85"/><rect x="994" y="1290" width="3" height="6" fill="#1a0812" fill-opacity="0.9"/><rect x="1025" y="1282" width="3" height="10" fill="#fff" fill-opacity="0.85"/><rect x="1026" y="1290" width="3" height="6" fill="#1a0812" fill-opacity="0.9"/><rect x="1089" y="1282" width="3" height="10" fill="#fff" fill-opacity="0.85"/><rect x="1090" y="1290" width="3" height="6" fill="#1a0812" fill-opacity="0.9"/><rect x="719.9" y="1296.5" width="418.1" height="1.5" fill="#7a1438" fill-opacity="0.85"/><rect x="719.9" y="1298.0" width="418.1" height="1.5" fill="#f8a8c0" fill-opacity="0.85"/><rect x="719.9" y="1299.5" width="418.1" height="1.5" fill="#8a1c44" fill-opacity="0.85"/><rect x="719.9" y="1301.0" width="418.1" height="1.5" fill="#ffc0d0" fill-opacity="0.85"/><rect x="719.9" y="1302.5" width="418.1" height="1.5" fill="#9a2850" fill-opacity="0.85"/><rect x="713.9" y="1344" width="430.1" height="32" filter="url(#nPinkV)" opacity="0.62"/><rect x="717.9" y="1376" width="426.1" height="13.6" filter="url(#nPinkV2)" opacity="0.8"/><rect x="800" y="1360" width="16" height="16" fill="#e08850" fill-opacity="0.55"/><rect x="912" y="1360" width="16" height="16" fill="#e08850" fill-opacity="0.55"/><rect x="960" y="1360" width="16" height="16" fill="#e08850" fill-opacity="0.55"/><rect x="992" y="1360" width="16" height="16" fill="#e08850" fill-opacity="0.55"/><rect x="784" y="1376" width="16" height="13" fill="#e08850" fill-opacity="0.55"/><rect x="976" y="1376" width="16" height="13" fill="#e08850" fill-opacity="0.55"/><rect x="1144.0" y="1384.6" width="104.9" height="5" fill="#a43058"/>
<rect x="1357.5" y="841.6" width="534.0" height="547.7" fill="#d31c57"/><g clip-path="url(#uwClip)"><g filter="url(#uwBlur)"><rect x="1349.5" y="833.6" width="550.0" height="563.7" fill="#d31c57"/><rect x="1357.5" y="841.6" width="50.5" height="4.4" fill="#b01850"/><rect x="1440.0" y="864.0" width="451.5" height="16.0" fill="#b02a58"/><rect x="1728.0" y="864.0" width="163.5" height="8.0" fill="#9b1646"/><rect x="1472.0" y="880.0" width="419.5" height="32.0" fill="#b02a58"/><rect x="1600.0" y="881.0" width="291.5" height="7.0" fill="#8c0f3c"/><rect x="1584.0" y="880.0" width="8.0" height="8.0" fill="#9b1646"/><rect x="1536.0" y="912.0" width="355.5" height="16.0" fill="#b02a58"/><rect x="1696.0" y="928.0" width="48.0" height="8.0" fill="#c81880"/><rect x="1744.0" y="928.0" width="147.5" height="8.0" fill="#d01860"/><rect x="1648.0" y="936.0" width="48.0" height="8.0" fill="#e23264"/><rect x="1696.0" y="936.0" width="24.0" height="8.0" fill="#e84040"/><rect x="1720.0" y="936.0" width="171.5" height="8.0" fill="#f2562a"/><rect x="1648.0" y="944.0" width="243.5" height="16.0" fill="#b02a58"/><rect x="1440.0" y="960.0" width="451.5" height="16.0" fill="#b02a58"/><rect x="1744.0" y="960.0" width="147.5" height="8.0" fill="#9b1646"/><rect x="1440.0" y="976.0" width="16.0" height="16.0" fill="#b02a58"/><rect x="1488.0" y="976.0" width="403.5" height="16.0" fill="#b02a58"/><rect x="1752.0" y="976.0" width="139.5" height="8.0" fill="#c63c6a"/><rect x="1456.0" y="992.0" width="435.5" height="16.0" fill="#b02a58"/><rect x="1784.0" y="992.0" width="107.5" height="8.0" fill="#9b1646"/><rect x="1616.0" y="1008.0" width="275.5" height="16.0" fill="#b02a58"/><rect x="1520.0" y="1024.0" width="112.0" height="7.0" fill="#c01850"/><rect x="1632.0" y="1024.0" width="128.0" height="8.0" fill="#f0346c"/><rect x="1760.0" y="1024.0" width="16.0" height="8.0" fill="#d04070"/><rect x="1776.0" y="1024.0" width="115.5" height="9.0" fill="#d8624e"/><rect x="1776.0" y="1033.0" width="115.5" height="7.0" fill="#a81c24"/><rect x="1680.0" y="1032.0" width="96.0" height="8.0" fill="#b81048"/><rect x="1408.0" y="1056.0" width="483.5" height="16.0" fill="#b02a58"/><rect x="1584.0" y="1064.0" width="112.0" height="8.0" fill="#9b1646"/><rect x="1696.0" y="1064.0" width="195.5" height="7.0" fill="#86083a"/><rect x="1488.0" y="1072.0" width="176.0" height="16.0" fill="#b02a58"/><rect x="1552.0" y="1080.0" width="112.0" height="8.0" fill="#9b1646"/><rect x="1664.0" y="1080.0" width="104.0" height="8.0" fill="#7c2a4a"/><rect x="1768.0" y="1082.0" width="123.5" height="5.0" fill="#76082e"/><rect x="1632.0" y="1112.0" width="48.0" height="8.0" fill="#c01850"/><rect x="1552.0" y="1120.0" width="64.0" height="8.0" fill="#c01850"/><rect x="1616.0" y="1120.0" width="144.0" height="9.0" fill="#f43c74"/><rect x="1760.0" y="1120.0" width="131.5" height="16.0" fill="#d42232"/><rect x="1792.0" y="1121.0" width="99.5" height="5.0" fill="#ea3444"/><rect x="1456.0" y="1136.0" width="16.0" height="8.0" fill="#e23268"/><rect x="1472.0" y="1136.0" width="32.0" height="8.0" fill="#e63a4a"/><rect x="1504.0" y="1136.0" width="40.0" height="8.0" fill="#f05020"/><rect x="1544.0" y="1136.0" width="88.0" height="8.0" fill="#ff7030"/><rect x="1632.0" y="1136.0" width="32.0" height="8.0" fill="#ff7a3a"/><rect x="1664.0" y="1136.0" width="40.0" height="8.0" fill="#e2a090"/><rect x="1704.0" y="1136.0" width="187.5" height="8.0" fill="#f8b2a2"/><rect x="1472.0" y="1144.0" width="32.0" height="8.0" fill="#d42232"/><rect x="1504.0" y="1144.0" width="160.0" height="8.0" fill="#d01862"/><rect x="1664.0" y="1144.0" width="104.0" height="8.0" fill="#d42232"/><rect x="1768.0" y="1144.0" width="123.5" height="8.0" fill="#e83a4a"/><rect x="1408.0" y="1152.0" width="64.0" height="32.0" fill="#b02a58"/><rect x="1472.0" y="1152.0" width="240.0" height="8.0" fill="#9b1646"/><rect x="1480.0" y="1152.0" width="8.0" height="8.0" fill="#b02a58"/><rect x="1712.0" y="1152.0" width="40.0" height="8.0" fill="#7c2a4a"/><rect x="1752.0" y="1152.0" width="139.5" height="4.0" fill="#70082e"/><rect x="1752.0" y="1156.0" width="139.5" height="4.0" fill="#c42458"/><rect x="1472.0" y="1160.0" width="240.0" height="8.0" fill="#b02a58"/><rect x="1712.0" y="1160.0" width="179.5" height="8.0" fill="#da1a5a"/><rect x="1472.0" y="1168.0" width="96.0" height="8.0" fill="#9b1646"/><rect x="1568.0" y="1168.0" width="88.0" height="8.0" fill="#7c2a4a"/><rect x="1656.0" y="1168.0" width="40.0" height="9.0" fill="#36181e"/><rect x="1696.0" y="1169.0" width="195.5" height="9.0" fill="#171010"/><rect x="1472.0" y="1176.0" width="96.0" height="8.0" fill="#b02a58"/><rect x="1568.0" y="1176.0" width="16.0" height="8.0" fill="#d01c58"/><rect x="1584.0" y="1177.0" width="160.0" height="7.0" fill="#e4205e"/><rect x="1744.0" y="1178.0" width="147.5" height="6.0" fill="#d41052"/><rect x="1568.0" y="1184.0" width="200.0" height="16.0" fill="#b02a58"/><rect x="1728.0" y="1184.0" width="40.0" height="8.0" fill="#a42050"/><rect x="1768.0" y="1184.0" width="123.5" height="16.0" fill="#9b1646"/><rect x="1584.0" y="1200.0" width="152.0" height="8.0" fill="#d42232"/><rect x="1736.0" y="1200.0" width="155.5" height="8.0" fill="#e83a4a"/><rect x="1584.0" y="1208.0" width="32.0" height="8.0" fill="#d42232"/><rect x="1616.0" y="1208.0" width="275.5" height="8.0" fill="#e83a4a"/><rect x="1456.0" y="1216.0" width="80.0" height="8.0" fill="#d42232"/><rect x="1496.0" y="1216.0" width="40.0" height="8.0" fill="#c81c30"/><rect x="1592.0" y="1217.0" width="120.0" height="7.0" fill="#c82262"/><rect x="1712.0" y="1216.0" width="48.0" height="8.0" fill="#d82238"/><rect x="1760.0" y="1216.0" width="131.5" height="8.0" fill="#e83a4a"/><rect x="1464.0" y="1224.0" width="72.0" height="8.0" fill="#e63a4a"/><rect x="1536.0" y="1224.0" width="32.0" height="9.0" fill="#f84a5a"/><rect x="1568.0" y="1224.0" width="32.0" height="9.0" fill="#f85a2a"/><rect x="1600.0" y="1224.0" width="32.0" height="9.0" fill="#ff723a"/><rect x="1632.0" y="1224.0" width="40.0" height="9.0" fill="#f08252"/><rect x="1672.0" y="1224.0" width="24.0" height="9.0" fill="#ff9262"/><rect x="1696.0" y="1224.0" width="16.0" height="9.0" fill="#e0a252"/><rect x="1712.0" y="1224.0" width="32.0" height="9.0" fill="#e2a292"/><rect x="1744.0" y="1223.0" width="147.5" height="11.0" fill="#f8b2a2"/><rect x="1488.0" y="1232.0" width="64.0" height="8.0" fill="#c81a52"/><rect x="1552.0" y="1232.0" width="24.0" height="16.0" fill="#d42232"/><rect x="1576.0" y="1233.0" width="72.0" height="7.0" fill="#e83a4a"/><rect x="1648.0" y="1233.0" width="88.0" height="7.0" fill="#c81a2a"/><rect x="1736.0" y="1233.0" width="40.0" height="7.0" fill="#d82232"/><rect x="1776.0" y="1234.0" width="115.5" height="3.0" fill="#d86a58"/><rect x="1776.0" y="1237.0" width="115.5" height="4.0" fill="#b0222e"/><rect x="1576.0" y="1240.0" width="16.0" height="8.0" fill="#e83a4a"/><rect x="1592.0" y="1240.0" width="72.0" height="8.0" fill="#f84a5a"/><rect x="1664.0" y="1240.0" width="40.0" height="8.0" fill="#e02a3a"/><rect x="1704.0" y="1240.0" width="24.0" height="8.0" fill="#ff6272"/><rect x="1728.0" y="1240.0" width="48.0" height="8.0" fill="#d82232"/><rect x="1776.0" y="1241.0" width="115.5" height="7.0" fill="#e06a5a"/><rect x="1408.0" y="1248.0" width="80.0" height="16.0" fill="#b02a58"/><rect x="1616.0" y="1248.0" width="275.5" height="8.0" fill="#c23262"/><rect x="1440.0" y="1256.0" width="48.0" height="8.0" fill="#9b1646"/><rect x="1488.0" y="1256.0" width="128.0" height="8.0" fill="#7c2a4a"/><rect x="1616.0" y="1256.0" width="152.0" height="8.0" fill="#2a1018"/><rect x="1616.0" y="1255.0" width="24.0" height="4.0" fill="#7a2848"/><rect x="1768.0" y="1256.0" width="123.5" height="9.0" fill="#0e0006"/><rect x="1408.0" y="1264.0" width="48.0" height="16.0" fill="#b02a58"/><rect x="1456.0" y="1264.0" width="112.0" height="8.0" fill="#9b1646"/><rect x="1568.0" y="1264.0" width="16.0" height="8.0" fill="#7c2a4a"/><rect x="1584.0" y="1264.0" width="32.0" height="8.0" fill="#524048"/><rect x="1616.0" y="1264.0" width="24.0" height="8.0" fill="#522262"/><rect x="1640.0" y="1265.0" width="251.5" height="8.0" fill="#301040"/><rect x="1456.0" y="1272.0" width="112.0" height="8.0" fill="#b02a58"/><rect x="1568.0" y="1272.0" width="16.0" height="8.0" fill="#8a3858"/><rect x="1584.0" y="1272.0" width="32.0" height="8.0" fill="#c23262"/><rect x="1616.0" y="1273.0" width="275.5" height="8.0" fill="#a21062"/><rect x="1456.0" y="1280.0" width="96.0" height="16.0" fill="#b02a58"/><rect x="1552.0" y="1280.0" width="64.0" height="8.0" fill="#9b1646"/><rect x="1616.0" y="1281.0" width="275.5" height="7.0" fill="#8a2a4a"/><rect x="1552.0" y="1288.0" width="64.0" height="8.0" fill="#b02a58"/><rect x="1616.0" y="1288.0" width="136.0" height="8.0" fill="#e2205e"/><rect x="1752.0" y="1288.0" width="139.5" height="4.0" fill="#ea3272"/><rect x="1752.0" y="1292.0" width="139.5" height="4.0" fill="#da1a5a"/><rect x="1744.0" y="1296.0" width="147.5" height="16.0" fill="#d42232"/><rect x="1472.0" y="1312.0" width="96.0" height="8.0" fill="#e63a4a"/><rect x="1568.0" y="1312.0" width="88.0" height="8.0" fill="#f84a5a"/><rect x="1656.0" y="1312.0" width="24.0" height="8.0" fill="#ff626a"/><rect x="1680.0" y="1312.0" width="72.0" height="8.0" fill="#f0928a"/><rect x="1752.0" y="1312.0" width="139.5" height="8.0" fill="#f8aaa2"/><rect x="1472.0" y="1320.0" width="48.0" height="8.0" fill="#d42232"/><rect x="1520.0" y="1320.0" width="40.0" height="8.0" fill="#d01a2a"/><rect x="1560.0" y="1320.0" width="120.0" height="8.0" fill="#f04252"/><rect x="1680.0" y="1320.0" width="56.0" height="8.0" fill="#c84a4a"/><rect x="1736.0" y="1320.0" width="155.5" height="8.0" fill="#e0726a"/><rect x="1440.0" y="1328.0" width="16.0" height="16.0" fill="#d42232"/><rect x="1456.0" y="1328.0" width="72.0" height="8.0" fill="#e63a4a"/><rect x="1528.0" y="1328.0" width="24.0" height="8.0" fill="#f85262"/><rect x="1552.0" y="1328.0" width="48.0" height="8.0" fill="#f0726a"/><rect x="1600.0" y="1329.0" width="48.0" height="7.0" fill="#ff8a82"/><rect x="1648.0" y="1329.0" width="48.0" height="8.0" fill="#e2ba9a"/><rect x="1696.0" y="1329.0" width="40.0" height="8.0" fill="#f0e2aa"/><rect x="1736.0" y="1329.0" width="155.5" height="9.0" fill="#fff2c4"/><rect x="1600.0" y="1327.0" width="291.5" height="2.5" fill="#e81232"/><rect x="1456.0" y="1336.0" width="16.0" height="8.0" fill="#d42232"/><rect x="1472.0" y="1336.0" width="48.0" height="8.0" fill="#e63a4a"/><rect x="1520.0" y="1336.0" width="40.0" height="8.0" fill="#e02232"/><rect x="1560.0" y="1336.0" width="48.0" height="8.0" fill="#f0726a"/><rect x="1608.0" y="1337.0" width="283.5" height="4.0" fill="#f23242"/><rect x="1608.0" y="1341.0" width="283.5" height="3.5" fill="#ff2242"/><rect x="1376.0" y="1344.0" width="48.0" height="16.0" fill="#b02a58"/><rect x="1424.0" y="1344.0" width="32.0" height="16.0" fill="#9b1646"/><rect x="1456.0" y="1344.0" width="16.0" height="16.0" fill="#9a1068"/><rect x="1472.0" y="1344.0" width="96.0" height="16.0" fill="#822068"/><rect x="1568.0" y="1344.0" width="8.0" height="8.0" fill="#603070"/><rect x="1576.0" y="1344.5" width="64.0" height="7.5" fill="#481850"/><rect x="1640.0" y="1344.5" width="40.0" height="7.5" fill="#3a0a42"/><rect x="1680.0" y="1344.5" width="64.0" height="7.5" fill="#120632"/><rect x="1744.0" y="1344.5" width="147.5" height="7.5" fill="#090808"/><rect x="1560.0" y="1352.0" width="8.0" height="8.0" fill="#620a52"/><rect x="1568.0" y="1352.0" width="80.0" height="8.0" fill="#481850"/><rect x="1648.0" y="1352.0" width="32.0" height="8.0" fill="#3a0a42"/><rect x="1680.0" y="1352.0" width="64.0" height="8.0" fill="#1a1a42"/><rect x="1744.0" y="1352.0" width="24.0" height="8.0" fill="#1a1a1a"/><rect x="1768.0" y="1352.0" width="123.5" height="8.0" fill="#090808"/><rect x="1392.0" y="1360.0" width="88.0" height="16.0" fill="#b02a58"/><rect x="1480.0" y="1360.0" width="72.0" height="16.0" fill="#a21646"/><rect x="1552.0" y="1360.0" width="176.0" height="16.0" fill="#822068"/><rect x="1720.0" y="1360.0" width="8.0" height="8.0" fill="#921062"/><rect x="1728.0" y="1360.0" width="163.5" height="16.0" fill="#521a5a"/><rect x="1728.0" y="1368.0" width="24.0" height="8.0" fill="#623272"/><rect x="1408.0" y="1376.0" width="72.0" height="10.0" fill="#b02a58"/><rect x="1480.0" y="1376.0" width="40.0" height="10.0" fill="#a21646"/><rect x="1520.0" y="1376.0" width="176.0" height="10.0" fill="#8a224a"/><rect x="1696.0" y="1376.0" width="32.0" height="10.0" fill="#822068"/><rect x="1728.0" y="1376.0" width="24.0" height="10.0" fill="#922242"/><rect x="1752.0" y="1376.0" width="24.0" height="10.0" fill="#622232"/><rect x="1776.0" y="1376.0" width="115.5" height="10.0" fill="#521a5a"/></g></g><rect x="1357.5" y="1385" width="534.0" height="4.3" fill="#9a3058" fill-opacity="0.85"/><rect x="1890.0" y="841.6" width="1.5" height="547.7" fill="#5a1030" fill-opacity="0.6"/>
<rect x="2000.0" y="841.4" width="535.6" height="548.0" fill="#d31c57"/><rect x="2000.0" y="841.4" width="432.0" height="548.0" filter="url(#nPink)"/><g filter="url(#nPeach)"><rect x="2000.0" y="841.4" width="0.1" height="0.1"/><rect x="2096.0" y="841.4" width="16.0" height="6.6"/><rect x="2160.0" y="841.4" width="16.0" height="6.6"/><rect x="2224.0" y="841.4" width="16.0" height="6.6"/><rect x="2320.0" y="841.4" width="16.0" height="6.6"/><rect x="2144.0" y="848.0" width="16.0" height="16.0"/><rect x="2160.0" y="848.0" width="16.0" height="16.0"/><rect x="2416.0" y="848.0" width="16.0" height="16.0"/><rect x="2224.0" y="864.0" width="16.0" height="16.0"/><rect x="2352.0" y="864.0" width="16.0" height="16.0"/><rect x="2400.0" y="864.0" width="16.0" height="16.0"/><rect x="2128.0" y="880.0" width="16.0" height="16.0"/><rect x="2224.0" y="880.0" width="16.0" height="16.0"/><rect x="2128.0" y="896.0" width="16.0" height="16.0"/><rect x="2000.0" y="912.0" width="16.0" height="16.0"/><rect x="2016.0" y="928.0" width="16.0" height="16.0"/><rect x="2064.0" y="928.0" width="16.0" height="16.0"/><rect x="2080.0" y="928.0" width="16.0" height="16.0"/><rect x="2096.0" y="928.0" width="16.0" height="16.0"/><rect x="2112.0" y="928.0" width="16.0" height="16.0"/><rect x="2128.0" y="928.0" width="16.0" height="16.0"/><rect x="2144.0" y="928.0" width="16.0" height="16.0"/><rect x="2160.0" y="928.0" width="16.0" height="16.0"/><rect x="2192.0" y="928.0" width="16.0" height="16.0"/><rect x="2208.0" y="928.0" width="16.0" height="16.0"/><rect x="2240.0" y="928.0" width="16.0" height="16.0"/><rect x="2256.0" y="928.0" width="16.0" height="16.0"/><rect x="2272.0" y="928.0" width="16.0" height="16.0"/><rect x="2336.0" y="928.0" width="16.0" height="16.0"/><rect x="2352.0" y="928.0" width="16.0" height="16.0"/><rect x="2400.0" y="928.0" width="16.0" height="16.0"/><rect x="2000.0" y="944.0" width="16.0" height="16.0"/><rect x="2048.0" y="960.0" width="16.0" height="16.0"/><rect x="2016.0" y="976.0" width="16.0" height="16.0"/><rect x="2016.0" y="1008.0" width="16.0" height="16.0"/><rect x="2032.0" y="1008.0" width="16.0" height="16.0"/><rect x="2048.0" y="1008.0" width="16.0" height="16.0"/><rect x="2096.0" y="1008.0" width="16.0" height="16.0"/><rect x="2160.0" y="1008.0" width="16.0" height="16.0"/><rect x="2272.0" y="1008.0" width="16.0" height="16.0"/><rect x="2320.0" y="1008.0" width="16.0" height="16.0"/><rect x="2400.0" y="1008.0" width="16.0" height="16.0"/><rect x="2016.0" y="1024.0" width="16.0" height="16.0"/><rect x="2064.0" y="1024.0" width="16.0" height="16.0"/><rect x="2096.0" y="1024.0" width="16.0" height="16.0"/><rect x="2160.0" y="1024.0" width="16.0" height="16.0"/><rect x="2192.0" y="1024.0" width="16.0" height="16.0"/><rect x="2256.0" y="1024.0" width="16.0" height="16.0"/><rect x="2288.0" y="1024.0" width="16.0" height="16.0"/><rect x="2304.0" y="1024.0" width="16.0" height="16.0"/><rect x="2352.0" y="1024.0" width="16.0" height="16.0"/><rect x="2384.0" y="1024.0" width="16.0" height="16.0"/><rect x="2400.0" y="1024.0" width="16.0" height="16.0"/><rect x="2416.0" y="1024.0" width="16.0" height="16.0"/><rect x="2000.0" y="1040.0" width="16.0" height="16.0"/><rect x="2032.0" y="1040.0" width="16.0" height="16.0"/><rect x="2048.0" y="1040.0" width="16.0" height="16.0"/><rect x="2064.0" y="1040.0" width="16.0" height="16.0"/><rect x="2080.0" y="1040.0" width="16.0" height="16.0"/><rect x="2224.0" y="1040.0" width="16.0" height="16.0"/><rect x="2240.0" y="1040.0" width="16.0" height="16.0"/><rect x="2256.0" y="1040.0" width="16.0" height="16.0"/><rect x="2288.0" y="1040.0" width="16.0" height="16.0"/><rect x="2304.0" y="1040.0" width="16.0" height="16.0"/><rect x="2352.0" y="1040.0" width="16.0" height="16.0"/><rect x="2000.0" y="1056.0" width="16.0" height="16.0"/><rect x="2048.0" y="1056.0" width="16.0" height="16.0"/><rect x="2176.0" y="1056.0" width="16.0" height="16.0"/><rect x="2192.0" y="1056.0" width="16.0" height="16.0"/><rect x="2208.0" y="1056.0" width="16.0" height="16.0"/><rect x="2256.0" y="1056.0" width="16.0" height="16.0"/><rect x="2048.0" y="1072.0" width="16.0" height="16.0"/><rect x="2224.0" y="1072.0" width="16.0" height="16.0"/><rect x="2304.0" y="1072.0" width="16.0" height="16.0"/><rect x="2320.0" y="1072.0" width="16.0" height="16.0"/><rect x="2384.0" y="1072.0" width="16.0" height="16.0"/><rect x="2016.0" y="1120.0" width="16.0" height="16.0"/><rect x="2032.0" y="1104.0" width="16.0" height="16.0"/><rect x="2032.0" y="1120.0" width="16.0" height="16.0"/><rect x="2048.0" y="1104.0" width="16.0" height="16.0"/><rect x="2064.0" y="1120.0" width="16.0" height="16.0"/><rect x="2080.0" y="1120.0" width="16.0" height="16.0"/><rect x="2096.0" y="1120.0" width="16.0" height="16.0"/><rect x="2128.0" y="1120.0" width="16.0" height="16.0"/><rect x="2160.0" y="1120.0" width="16.0" height="16.0"/><rect x="2176.0" y="1120.0" width="16.0" height="16.0"/><rect x="2208.0" y="1104.0" width="16.0" height="16.0"/><rect x="2208.0" y="1120.0" width="16.0" height="16.0"/><rect x="2256.0" y="1120.0" width="16.0" height="16.0"/><rect x="2272.0" y="1120.0" width="16.0" height="16.0"/><rect x="2304.0" y="1088.0" width="16.0" height="16.0"/><rect x="2304.0" y="1120.0" width="16.0" height="16.0"/><rect x="2352.0" y="1104.0" width="16.0" height="16.0"/><rect x="2352.0" y="1120.0" width="16.0" height="16.0"/><rect x="2368.0" y="1088.0" width="16.0" height="16.0"/><rect x="2368.0" y="1120.0" width="16.0" height="16.0"/><rect x="2416.0" y="1120.0" width="16.0" height="16.0"/></g><g filter="url(#nOrange)"><rect x="2000.0" y="841.4" width="0.1" height="0.1"/><rect x="2288.0" y="841.4" width="16.0" height="6.6"/><rect x="2304.0" y="841.4" width="16.0" height="6.6"/><rect x="2192.0" y="848.0" width="16.0" height="16.0"/><rect x="2336.0" y="848.0" width="16.0" height="16.0"/><rect x="2368.0" y="848.0" width="16.0" height="16.0"/><rect x="2160.0" y="864.0" width="16.0" height="16.0"/><rect x="2368.0" y="864.0" width="16.0" height="16.0"/><rect x="2160.0" y="880.0" width="16.0" height="16.0"/><rect x="2016.0" y="912.0" width="16.0" height="16.0"/><rect x="2096.0" y="912.0" width="16.0" height="16.0"/><rect x="2144.0" y="912.0" width="16.0" height="16.0"/><rect x="2256.0" y="912.0" width="16.0" height="16.0"/><rect x="2352.0" y="912.0" width="16.0" height="16.0"/><rect x="2400.0" y="912.0" width="16.0" height="16.0"/><rect x="2000.0" y="928.0" width="16.0" height="16.0"/><rect x="2032.0" y="928.0" width="16.0" height="16.0"/><rect x="2048.0" y="928.0" width="16.0" height="16.0"/><rect x="2224.0" y="928.0" width="16.0" height="16.0"/><rect x="2320.0" y="928.0" width="16.0" height="16.0"/><rect x="2096.0" y="976.0" width="16.0" height="16.0"/><rect x="2192.0" y="992.0" width="16.0" height="16.0"/><rect x="2256.0" y="992.0" width="16.0" height="16.0"/><rect x="2000.0" y="1008.0" width="16.0" height="16.0"/><rect x="2112.0" y="1008.0" width="16.0" height="16.0"/><rect x="2192.0" y="1008.0" width="16.0" height="16.0"/><rect x="2288.0" y="1008.0" width="16.0" height="16.0"/><rect x="2336.0" y="1008.0" width="16.0" height="16.0"/><rect x="2352.0" y="1008.0" width="16.0" height="16.0"/><rect x="2384.0" y="1008.0" width="16.0" height="16.0"/><rect x="2048.0" y="1024.0" width="16.0" height="16.0"/><rect x="2128.0" y="1024.0" width="16.0" height="16.0"/><rect x="2144.0" y="1024.0" width="16.0" height="16.0"/><rect x="2176.0" y="1024.0" width="16.0" height="16.0"/><rect x="2208.0" y="1024.0" width="16.0" height="16.0"/><rect x="2224.0" y="1024.0" width="16.0" height="16.0"/><rect x="2272.0" y="1024.0" width="16.0" height="16.0"/><rect x="2336.0" y="1024.0" width="16.0" height="16.0"/><rect x="2176.0" y="1040.0" width="16.0" height="16.0"/><rect x="2192.0" y="1040.0" width="16.0" height="16.0"/><rect x="2240.0" y="1072.0" width="16.0" height="16.0"/><rect x="2368.0" y="1072.0" width="16.0" height="16.0"/><rect x="2048.0" y="1120.0" width="16.0" height="16.0"/><rect x="2144.0" y="1120.0" width="16.0" height="16.0"/><rect x="2192.0" y="1120.0" width="16.0" height="16.0"/><rect x="2288.0" y="1120.0" width="16.0" height="16.0"/><rect x="2320.0" y="1120.0" width="16.0" height="16.0"/><rect x="2336.0" y="1120.0" width="16.0" height="16.0"/><rect x="2384.0" y="1120.0" width="16.0" height="16.0"/><rect x="2400.0" y="1120.0" width="16.0" height="16.0"/><rect x="2326.0" y="1136.0" width="106.0" height="8.0"/><rect x="2016.0" y="1144.0" width="416.0" height="8.0"/></g><g filter="url(#nSalmon)"><rect x="2000.0" y="841.4" width="0.1" height="0.1"/><rect x="2048.0" y="848.0" width="16.0" height="16.0"/><rect x="2320.0" y="848.0" width="16.0" height="16.0"/><rect x="2208.0" y="864.0" width="16.0" height="16.0"/><rect x="2112.0" y="880.0" width="16.0" height="16.0"/><rect x="2176.0" y="928.0" width="16.0" height="16.0"/><rect x="2288.0" y="928.0" width="16.0" height="16.0"/><rect x="2368.0" y="928.0" width="16.0" height="16.0"/><rect x="2000.0" y="1024.0" width="16.0" height="16.0"/><rect x="2112.0" y="1024.0" width="16.0" height="16.0"/><rect x="2240.0" y="1024.0" width="16.0" height="16.0"/><rect x="2320.0" y="1024.0" width="16.0" height="16.0"/><rect x="2112.0" y="1040.0" width="16.0" height="16.0"/><rect x="2160.0" y="1040.0" width="16.0" height="16.0"/><rect x="2416.0" y="1040.0" width="16.0" height="16.0"/><rect x="2128.0" y="1056.0" width="16.0" height="16.0"/><rect x="2016.0" y="1104.0" width="16.0" height="16.0"/><rect x="2080.0" y="1104.0" width="16.0" height="16.0"/><rect x="2112.0" y="1104.0" width="16.0" height="16.0"/><rect x="2128.0" y="1104.0" width="16.0" height="16.0"/><rect x="2144.0" y="1104.0" width="16.0" height="16.0"/><rect x="2160.0" y="1104.0" width="16.0" height="16.0"/><rect x="2192.0" y="1104.0" width="16.0" height="16.0"/><rect x="2224.0" y="1104.0" width="16.0" height="16.0"/><rect x="2240.0" y="1104.0" width="16.0" height="16.0"/><rect x="2256.0" y="1104.0" width="16.0" height="16.0"/><rect x="2304.0" y="1104.0" width="16.0" height="16.0"/><rect x="2320.0" y="1104.0" width="16.0" height="16.0"/><rect x="2368.0" y="1104.0" width="16.0" height="16.0"/><rect x="2384.0" y="1104.0" width="16.0" height="16.0"/><rect x="2416.0" y="1104.0" width="16.0" height="16.0"/><rect x="2016.0" y="1200.0" width="416.0" height="8.0"/><rect x="2016.0" y="1216.0" width="416.0" height="8.0"/><rect x="2016.0" y="1233.0" width="416.0" height="7.0"/><rect x="2016.0" y="1288.0" width="416.0" height="8.0"/><rect x="2016.0" y="1304.0" width="416.0" height="8.0"/><rect x="2016.0" y="1320.0" width="416.0" height="8.0"/></g><g filter="url(#nCream)"><rect x="2000.0" y="841.4" width="0.1" height="0.1"/><rect x="2016.0" y="1240.0" width="416.0" height="8.0"/><rect x="2016.0" y="1328.0" width="416.0" height="16.0"/></g><g filter="url(#nDark)"><rect x="2000.0" y="841.4" width="0.1" height="0.1"/><rect x="2064.0" y="1058.0" width="16.0" height="14.0"/><rect x="2080.0" y="1058.0" width="16.0" height="14.0"/><rect x="2096.0" y="1058.0" width="16.0" height="14.0"/><rect x="2112.0" y="1058.0" width="16.0" height="14.0"/><rect x="2128.0" y="1058.0" width="16.0" height="14.0"/><rect x="2192.0" y="1058.0" width="16.0" height="14.0"/><rect x="2224.0" y="1058.0" width="16.0" height="14.0"/><rect x="2256.0" y="1058.0" width="16.0" height="14.0"/><rect x="2400.0" y="1058.0" width="16.0" height="14.0"/><rect x="2112.0" y="868.0" width="16.0" height="12.0"/><rect x="2128.0" y="868.0" width="16.0" height="12.0"/><rect x="2304.0" y="868.0" width="16.0" height="12.0"/><rect x="2320.0" y="868.0" width="16.0" height="12.0"/><rect x="2032.0" y="884.0" width="16.0" height="12.0"/><rect x="2064.0" y="884.0" width="16.0" height="12.0"/><rect x="2224.0" y="884.0" width="16.0" height="12.0"/><rect x="2240.0" y="884.0" width="16.0" height="12.0"/><rect x="2368.0" y="884.0" width="16.0" height="12.0"/><rect x="2080.0" y="948.0" width="16.0" height="12.0"/><rect x="2080.0" y="964.0" width="16.0" height="12.0"/><rect x="2224.0" y="948.0" width="16.0" height="12.0"/><rect x="2144.0" y="980.0" width="16.0" height="12.0"/><rect x="2192.0" y="980.0" width="16.0" height="12.0"/><rect x="2272.0" y="980.0" width="16.0" height="12.0"/><rect x="2176.0" y="964.0" width="16.0" height="12.0"/><rect x="2016.0" y="1152.0" width="408.0" height="8.0"/></g><g filter="url(#nCrim)"><rect x="2000.0" y="841.4" width="0.1" height="0.1"/><rect x="2016.0" y="1088.0" width="16.0" height="16.0"/><rect x="2064.0" y="1088.0" width="16.0" height="16.0"/><rect x="2080.0" y="1088.0" width="16.0" height="16.0"/><rect x="2096.0" y="1088.0" width="16.0" height="16.0"/><rect x="2112.0" y="1088.0" width="16.0" height="16.0"/><rect x="2144.0" y="1088.0" width="16.0" height="16.0"/><rect x="2160.0" y="1088.0" width="16.0" height="16.0"/><rect x="2240.0" y="1088.0" width="16.0" height="16.0"/><rect x="2256.0" y="1088.0" width="16.0" height="16.0"/><rect x="2272.0" y="1088.0" width="16.0" height="16.0"/><rect x="2288.0" y="1088.0" width="16.0" height="16.0"/><rect x="2320.0" y="1088.0" width="16.0" height="16.0"/><rect x="2336.0" y="1088.0" width="16.0" height="16.0"/><rect x="2384.0" y="1088.0" width="16.0" height="16.0"/><rect x="2400.0" y="1088.0" width="16.0" height="16.0"/><rect x="2016.0" y="1184.0" width="400.0" height="16.0"/><rect x="2016.0" y="1272.0" width="416.0" height="8.0"/></g><g filter="url(#nMaroon)"><rect x="2000.0" y="841.4" width="0.1" height="0.1"/><rect x="2016.0" y="1168.0" width="400.0" height="8.0"/><rect x="2016.0" y="1248.0" width="416.0" height="8.0"/><rect x="2016.0" y="1264.0" width="416.0" height="8.0"/><rect x="2016.0" y="1360.0" width="400.0" height="4.0"/></g><rect x="2016.0" y="1136.5" width="310.0" height="7.0" fill="#f8a890" fill-opacity="0.78"/><rect x="2016.0" y="1168.0" width="400.0" height="8.0" fill="#701840" fill-opacity="0.55"/><rect x="2016.0" y="1208.0" width="410.0" height="8.0" fill="#e24c4a" fill-opacity="0.8"/><rect x="2016.0" y="1224.0" width="410.0" height="9.0" fill="#f8a088" fill-opacity="0.85"/><rect x="2076.0" y="1241.0" width="330.0" height="6.0" fill="#eef2c4" fill-opacity="0.55"/><rect x="2016.0" y="1240.0" width="16.0" height="8.0" fill="#101848"/><rect x="2016.0" y="1256.0" width="400.0" height="8.0" fill="#501830" fill-opacity="0.85"/><rect x="2016.0" y="1264.0" width="400.0" height="8.0" fill="#5c1838" fill-opacity="0.5"/><rect x="2016.0" y="1280.0" width="400.0" height="8.0" fill="#b01858" fill-opacity="0.8"/><rect x="2016.0" y="1280.0" width="16.0" height="8.0" fill="#8a1878" fill-opacity="0.8"/><rect x="2032.0" y="1280.0" width="16.0" height="8.0" fill="#8a1878" fill-opacity="0.8"/><rect x="2176.0" y="1280.0" width="16.0" height="8.0" fill="#8a1878" fill-opacity="0.8"/><rect x="2192.0" y="1280.0" width="16.0" height="8.0" fill="#8a1878" fill-opacity="0.8"/><rect x="2256.0" y="1280.0" width="16.0" height="8.0" fill="#8a1878" fill-opacity="0.8"/><rect x="2016.0" y="1296.0" width="416.0" height="8.0" fill="#e83040" fill-opacity="0.85"/><rect x="2016.0" y="1312.0" width="416.0" height="8.0" fill="#f87870" fill-opacity="0.82"/><rect x="2016.0" y="1344.0" width="400.0" height="16.0" fill="#2a1650"/><rect x="2048.0" y="1344.0" width="16.0" height="16.0" fill="#42104e"/><rect x="2096.0" y="1344.0" width="16.0" height="16.0" fill="#42104e"/><rect x="2112.0" y="1344.0" width="16.0" height="16.0" fill="#42104e"/><rect x="2128.0" y="1344.0" width="16.0" height="16.0" fill="#42104e"/><rect x="2144.0" y="1344.0" width="16.0" height="16.0" fill="#42104e"/><rect x="2224.0" y="1344.0" width="16.0" height="16.0" fill="#42104e"/><rect x="2240.0" y="1344.0" width="16.0" height="16.0" fill="#42104e"/><rect x="2304.0" y="1344.0" width="16.0" height="16.0" fill="#42104e"/><rect x="2336.0" y="1344.0" width="16.0" height="16.0" fill="#42104e"/><rect x="2352.0" y="1344.0" width="16.0" height="16.0" fill="#42104e"/><rect x="2368.0" y="1344.0" width="16.0" height="16.0" fill="#42104e"/><rect x="2416.0" y="1344.0" width="16.0" height="16.0" fill="#401028"/><rect x="2016.0" y="1360.0" width="400.0" height="16.0" fill="#842068"/><rect x="2016.0" y="1376.0" width="400.0" height="13.4" fill="#8a2848"/><rect x="2008.0" y="1380.0" width="424.0" height="9.4" fill="#8a2848" fill-opacity="0.7"/><rect x="2432.0" y="1385" width="103.6" height="4.4" fill="#a43058"/>
<g font-family="'Liberation Sans', sans-serif" fill="#1c1c1c"><text x="342.5" y="810.9" font-size="47" text-anchor="middle" textLength="316.0" lengthAdjust="spacingAndGlyphs">Log Magnitude</text><text x="983.3" y="810.9" font-size="47" text-anchor="middle" textLength="121.4" lengthAdjust="spacingAndGlyphs">Phase</text><text x="1624.3" y="810.0" font-size="47" text-anchor="middle" textLength="379.3" lengthAdjust="spacingAndGlyphs">Unwrapped Phase</text><text x="2265.3" y="810.0" font-size="47" text-anchor="middle" textLength="524.0" lengthAdjust="spacingAndGlyphs">Instantaneous Frequency</text><text x="309.4" y="1438.6" font-size="47" text-anchor="middle" textLength="101.2" lengthAdjust="spacingAndGlyphs">Time</text><text x="963.1" y="1438.6" font-size="47" text-anchor="middle" textLength="101.2" lengthAdjust="spacingAndGlyphs">Time</text><text x="1616.2" y="1439.4" font-size="47" text-anchor="middle" textLength="101.2" lengthAdjust="spacingAndGlyphs">Time</text><text x="2269.5" y="1446.0" font-size="47" text-anchor="middle" textLength="101.2" lengthAdjust="spacingAndGlyphs">Time</text><text transform="translate(55.6 1116.5) rotate(-90)" font-size="47" text-anchor="middle" textLength="217" lengthAdjust="spacingAndGlyphs">Frequency</text><text transform="translate(690.6 1116.5) rotate(-90)" font-size="47" text-anchor="middle" textLength="217" lengthAdjust="spacingAndGlyphs">Frequency</text><text transform="translate(1334.5 1116.5) rotate(-90)" font-size="47" text-anchor="middle" textLength="217" lengthAdjust="spacingAndGlyphs">Frequency</text><text transform="translate(1978.0 1116.5) rotate(-90)" font-size="47" text-anchor="middle" textLength="217" lengthAdjust="spacingAndGlyphs">Frequency</text></g>
</svg></body></html>
